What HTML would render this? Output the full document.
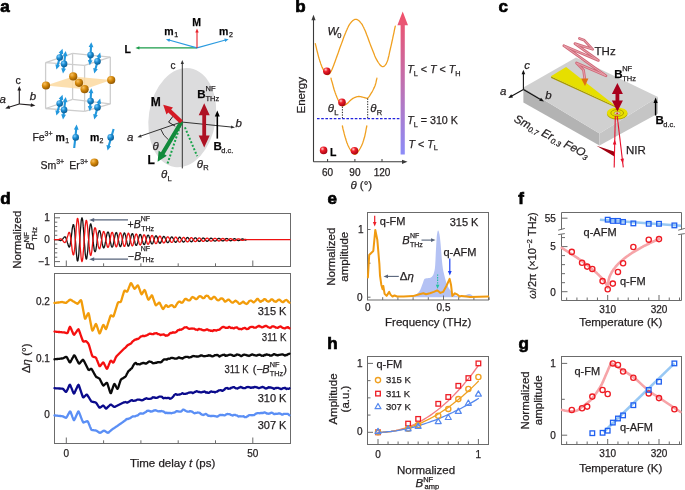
<!DOCTYPE html>
<html><head><meta charset="utf-8"><style>
html,body{margin:0;padding:0;background:#fff;}
svg{display:block;font-family:"Liberation Sans", sans-serif;will-change:transform;}
text{stroke:#231f20;stroke-width:0.25px;}
</style></head><body>
<svg width="685" height="490" viewBox="0 0 685 490">
<defs>
<radialGradient id="gRed" cx="0.35" cy="0.3" r="0.75"><stop offset="0" stop-color="#ffd0d0"/><stop offset="0.35" stop-color="#f0202a"/><stop offset="1" stop-color="#a00010"/></radialGradient>
<radialGradient id="gOr" cx="0.35" cy="0.3" r="0.75"><stop offset="0" stop-color="#f8c060"/><stop offset="0.45" stop-color="#d4880a"/><stop offset="1" stop-color="#8a5200"/></radialGradient>
<radialGradient id="gBl" cx="0.35" cy="0.3" r="0.75"><stop offset="0" stop-color="#80d0ff"/><stop offset="0.45" stop-color="#1a8ad0"/><stop offset="1" stop-color="#0a5a90"/></radialGradient>
<linearGradient id="gArr" x1="0" y1="0" x2="0" y2="1"><stop offset="0" stop-color="#f25068"/><stop offset="0.5" stop-color="#c070b0"/><stop offset="1" stop-color="#8c8cf8"/></linearGradient>
</defs>
<rect width="685" height="490" fill="#fff"/>
<text x="0.3" y="11.6" font-size="17" font-weight="bold" fill="#000" style="stroke:#000;stroke-width:0.7px">a</text>
<text x="295.3" y="11.6" font-size="17" font-weight="bold" fill="#000" style="stroke:#000;stroke-width:0.7px">b</text>
<text x="498.5" y="11.6" font-size="17" font-weight="bold" fill="#000" style="stroke:#000;stroke-width:0.7px">c</text>
<text x="0.3" y="203.9" font-size="17" font-weight="bold" fill="#000" style="stroke:#000;stroke-width:0.7px">d</text>
<text x="327.5" y="203.9" font-size="17" font-weight="bold" fill="#000" style="stroke:#000;stroke-width:0.7px">e</text>
<text x="518.3" y="203.9" font-size="17" font-weight="bold" fill="#000" style="stroke:#000;stroke-width:0.7px">f</text>
<text x="518.5" y="348.6" font-size="17" font-weight="bold" fill="#000" style="stroke:#000;stroke-width:0.7px">g</text>
<text x="327.3" y="348.6" font-size="17" font-weight="bold" fill="#000" style="stroke:#000;stroke-width:0.7px">h</text>
<line x1="197" y1="47.9" x2="138.60" y2="47.90" stroke="#1a9b48" stroke-width="1.1"/>
<polygon points="135.40,47.90 139.40,46.20 139.40,49.60" fill="#1a9b48"/>
<line x1="197" y1="47.9" x2="168.98" y2="40.06" stroke="#2b9be0" stroke-width="1.1"/>
<polygon points="165.90,39.20 170.21,38.64 169.29,41.91" fill="#2b9be0"/>
<line x1="197" y1="47.9" x2="225.51" y2="40.05" stroke="#2b9be0" stroke-width="1.1"/>
<polygon points="228.60,39.20 225.19,41.90 224.29,38.62" fill="#2b9be0"/>
<line x1="197" y1="47.9" x2="197.00" y2="31.80" stroke="#e8202a" stroke-width="1.1"/>
<polygon points="197.00,28.60 198.70,32.60 195.30,32.60" fill="#e8202a"/>
<text x="196.5" y="25.5" font-size="10.5" text-anchor="middle" font-weight="bold" fill="#000">M</text>
<text x="164.3" y="35" font-size="10.5" font-weight="bold" fill="#000">m</text>
<text x="174.2" y="37" font-size="7" fill="#000">1</text>
<text x="219" y="35" font-size="10.5" font-weight="bold" fill="#000">m</text>
<text x="228.9" y="37" font-size="7" fill="#000">2</text>
<text x="124.5" y="53" font-size="10.5" font-weight="bold" fill="#000">L</text>
<line x1="45.6" y1="62.6" x2="72.6" y2="53.4" stroke="#cdcdcd" stroke-width="1.3"/>
<line x1="72.6" y1="53.4" x2="110.3" y2="57.1" stroke="#cdcdcd" stroke-width="1.3"/>
<line x1="110.3" y1="57.1" x2="84.6" y2="65.3" stroke="#cdcdcd" stroke-width="1.3"/>
<line x1="84.6" y1="65.3" x2="45.6" y2="62.6" stroke="#cdcdcd" stroke-width="1.3"/>
<line x1="45.6" y1="108.5" x2="84.6" y2="111.3" stroke="#cdcdcd" stroke-width="1.3"/>
<line x1="84.6" y1="111.3" x2="110.3" y2="103.9" stroke="#cdcdcd" stroke-width="1.3"/>
<line x1="110.3" y1="103.9" x2="72.6" y2="99.3" stroke="#cdcdcd" stroke-width="1.3"/>
<line x1="72.6" y1="99.3" x2="45.6" y2="108.5" stroke="#cdcdcd" stroke-width="1.3"/>
<line x1="45.6" y1="62.6" x2="45.6" y2="108.5" stroke="#cdcdcd" stroke-width="1.3"/>
<line x1="72.6" y1="53.4" x2="72.6" y2="99.3" stroke="#cdcdcd" stroke-width="1.3"/>
<line x1="110.3" y1="57.1" x2="110.3" y2="103.9" stroke="#cdcdcd" stroke-width="1.3"/>
<line x1="84.6" y1="65.3" x2="84.6" y2="111.3" stroke="#cdcdcd" stroke-width="1.3"/>
<polygon points="46,85.5 73.2,76.4 111.2,80 84.6,89.2" fill="#fbd9a0" opacity="0.85"/>
<circle cx="46" cy="85.5" r="4.1" fill="url(#gOr)"/>
<circle cx="73.2" cy="76.4" r="4.1" fill="url(#gOr)"/>
<circle cx="111.2" cy="80" r="4.1" fill="url(#gOr)"/>
<circle cx="79" cy="82.8" r="4.1" fill="url(#gOr)"/>
<circle cx="84.6" cy="89.2" r="4.1" fill="url(#gOr)"/>
<line x1="61.58090999048602" y1="51.655743958132724" x2="57.189352217376324" y2="66.70570853628679" stroke="#2398dd" stroke-width="2.1"/>
<polygon points="62.50,48.80 63.25,54.29 58.68,52.82" fill="#2398dd"/>
<polygon points="56.40,69.60 55.40,64.14 60.03,65.41" fill="#2398dd"/>
<circle cx="59.7" cy="57.5" r="3.3" fill="url(#gBl)"/>
<line x1="65.3307364544437" y1="53.97718733604776" x2="63.34506295834522" y2="70.41991081429128" stroke="#2398dd" stroke-width="2.1"/>
<polygon points="65.70,51.00 67.47,56.26 62.70,55.67" fill="#2398dd"/>
<polygon points="63.00,73.40 61.19,68.16 65.96,68.71" fill="#2398dd"/>
<circle cx="64.1" cy="63.9" r="3.3" fill="url(#gBl)"/>
<line x1="91.13744844574998" y1="45.19559292832169" x2="90.03688183838786" y2="62.20936679035326" stroke="#2398dd" stroke-width="2.1"/>
<polygon points="91.30,42.20 93.43,47.32 88.63,47.06" fill="#2398dd"/>
<polygon points="89.80,65.20 87.80,60.03 92.59,60.41" fill="#2398dd"/>
<circle cx="90.6" cy="55.1" r="3.3" fill="url(#gBl)"/>
<line x1="99.32003293947038" y1="55.46804078987431" x2="94.99546944906312" y2="70.50738382158863" stroke="#2398dd" stroke-width="2.1"/>
<polygon points="100.20,52.60 101.03,58.08 96.44,56.68" fill="#2398dd"/>
<polygon points="94.20,73.40 93.21,67.94 97.84,69.22" fill="#2398dd"/>
<circle cx="97.5" cy="61.4" r="3.3" fill="url(#gBl)"/>
<line x1="61.58090999048602" y1="97.65574395813273" x2="57.189352217376324" y2="112.70570853628679" stroke="#2398dd" stroke-width="2.1"/>
<polygon points="62.50,94.80 63.25,100.29 58.68,98.82" fill="#2398dd"/>
<polygon points="56.40,115.60 55.40,110.14 60.03,111.41" fill="#2398dd"/>
<circle cx="59.7" cy="103.5" r="3.3" fill="url(#gBl)"/>
<line x1="65.3307364544437" y1="99.97718733604776" x2="63.34506295834522" y2="116.41991081429128" stroke="#2398dd" stroke-width="2.1"/>
<polygon points="65.70,97.00 67.47,102.26 62.70,101.67" fill="#2398dd"/>
<polygon points="63.00,119.40 61.19,114.16 65.96,114.71" fill="#2398dd"/>
<circle cx="64.1" cy="109.9" r="3.3" fill="url(#gBl)"/>
<line x1="91.13744844574998" y1="91.19559292832169" x2="90.03688183838786" y2="108.20936679035326" stroke="#2398dd" stroke-width="2.1"/>
<polygon points="91.30,88.20 93.43,93.32 88.63,93.06" fill="#2398dd"/>
<polygon points="89.80,111.20 87.80,106.03 92.59,106.41" fill="#2398dd"/>
<circle cx="90.6" cy="101.1" r="3.3" fill="url(#gBl)"/>
<line x1="99.32003293947038" y1="101.46804078987431" x2="94.99546944906312" y2="116.50738382158863" stroke="#2398dd" stroke-width="2.1"/>
<polygon points="100.20,98.60 101.03,104.08 96.44,102.68" fill="#2398dd"/>
<polygon points="94.20,119.40 93.21,113.94 97.84,115.22" fill="#2398dd"/>
<circle cx="97.5" cy="107.4" r="3.3" fill="url(#gBl)"/>
<line x1="19.3" y1="104" x2="19.30" y2="89.68" stroke="#231f20" stroke-width="1.1"/>
<polygon points="19.30,86.00 21.20,90.60 17.40,90.60" fill="#231f20"/>
<line x1="19.3" y1="104" x2="8.71" y2="107.30" stroke="#231f20" stroke-width="1.1"/>
<polygon points="5.20,108.40 9.03,105.22 10.16,108.84" fill="#231f20"/>
<line x1="19.3" y1="104" x2="31.74" y2="105.16" stroke="#231f20" stroke-width="1.1"/>
<polygon points="35.40,105.50 30.64,106.97 31.00,103.18" fill="#231f20"/>
<text x="15.6" y="83.6" font-size="10.5" fill="#231f20">c</text>
<text x="-0.4" y="102.8" font-size="11.5" font-style="italic" fill="#231f20">a</text>
<text x="29.8" y="99.9" font-size="11.5" font-style="italic" fill="#231f20">b</text>
<text x="32.4" y="141.3" font-size="10.5" fill="#231f20">Fe</text>
<text x="44.5" y="136.3" font-size="7" fill="#231f20">3+</text>
<text x="55.6" y="141.3" font-size="10.5" font-weight="bold" fill="#000">m</text>
<text x="65.2" y="143.2" font-size="7" fill="#231f20">1</text>
<line x1="76.38958199599233" y1="127.59261161255338" x2="74.2" y2="148.0" stroke="#2398dd" stroke-width="2.1"/>
<polygon points="76.60,124.60 78.64,129.76 73.86,129.42" fill="#2398dd"/>
<circle cx="75.7" cy="137.4" r="3.3" fill="url(#gBl)"/>
<text x="90" y="141.3" font-size="10.5" font-weight="bold" fill="#000">m</text>
<text x="99.6" y="143.2" font-size="7" fill="#231f20">2</text>
<line x1="113.6" y1="129.0" x2="108.29084383366741" y2="147.5806276706313" stroke="#2398dd" stroke-width="2.1"/>
<polygon points="107.60,150.50 106.42,145.08 111.09,146.19" fill="#2398dd"/>
<circle cx="110.7" cy="137.4" r="3.3" fill="url(#gBl)"/>
<text x="40.5" y="169" font-size="10.5" fill="#231f20">Sm</text>
<text x="56.2" y="164" font-size="7" fill="#231f20">3+</text>
<text x="69.2" y="169" font-size="10.5" fill="#231f20">Er</text>
<text x="80.2" y="164" font-size="7" fill="#231f20">3+</text>
<circle cx="94.4" cy="162.6" r="4.1" fill="url(#gOr)"/>
<ellipse cx="182.3" cy="117.6" rx="33.5" ry="50" fill="#dcdcdd" transform="rotate(9 182.3 117.6)"/>
<line x1="182.3" y1="168.4" x2="182.30" y2="63.10" stroke="#333" stroke-width="1"/>
<polygon points="182.30,59.90 183.90,63.90 180.70,63.90" fill="#333"/>
<text x="170.5" y="69" font-size="10" fill="#231f20">c</text>
<line x1="181.4" y1="122" x2="140.42" y2="136.16" stroke="#333" stroke-width="1"/>
<polygon points="137.40,137.20 140.66,134.38 141.70,137.41" fill="#333"/>
<text x="127" y="140.6" font-size="11.5" font-style="italic" fill="#231f20">a</text>
<line x1="181.4" y1="122" x2="231.82" y2="127.08" stroke="#333" stroke-width="1"/>
<polygon points="235.00,127.40 230.86,128.59 231.18,125.41" fill="#333"/>
<text x="235.5" y="126.5" font-size="11.5" font-style="italic" fill="#231f20">b</text>
<path d="M 160.8 129.3 A 22 22 0 0 0 168.5 139.8" fill="none" stroke="#231f20" stroke-width="0.9"/>
<polyline points="173,116.2 168.6,122.1 175.2,126.2" fill="none" stroke="#231f20" stroke-width="1"/>
<line x1="181.4" y1="122" x2="167.4" y2="164" stroke="#17a34a" stroke-width="2" stroke-dasharray="2 1.8"/>
<line x1="184.9" y1="127.3" x2="197.2" y2="156.2" stroke="#17a34a" stroke-width="2" stroke-dasharray="2 1.8"/>
<polygon points="179.60,120.92 160.93,152.14 158.66,150.78 157.60,161.80 166.81,155.66 164.53,154.30 183.20,123.08" fill="#128a3c"/>
<polygon points="182.84,120.47 171.18,109.46 173.00,107.53 163.20,104.80 166.48,114.43 168.30,112.51 179.96,123.53" fill="#d41a24"/>
<text x="147.6" y="164.3" font-size="12" font-weight="bold" fill="#000">L</text>
<text x="150.7" y="106.2" font-size="12" font-weight="bold" fill="#000">M</text>
<text x="152.5" y="150" font-size="11.5" font-style="italic" fill="#231f20">θ</text>
<text x="161" y="178" font-size="11.5" font-style="italic" fill="#231f20">θ</text>
<text x="167.5" y="180.5" font-size="7.5" fill="#231f20">L</text>
<text x="196.8" y="167.5" font-size="11.5" font-style="italic" fill="#231f20">θ</text>
<text x="203.3" y="170" font-size="7.5" fill="#231f20">R</text>
<polygon points="204.20,103.20 209.70,115.20 206.10,115.20 206.10,135.40 209.70,135.40 204.20,147.40 198.70,135.40 202.30,135.40 202.30,115.20 198.70,115.20" fill="#ae1224"/>
<text x="197.2" y="98" font-size="11.5" font-weight="bold" fill="#000">B</text>
<text x="205.5" y="91" font-size="7.5" fill="#231f20">NF</text>
<text x="205.5" y="101" font-size="7.5" fill="#231f20">THz</text>
<line x1="217.3" y1="138.6" x2="217.30" y2="115.30" stroke="#000" stroke-width="1.6"/>
<polygon points="217.30,110.50 219.80,116.50 214.80,116.50" fill="#000"/>
<text x="213.5" y="150.2" font-size="11.5" font-weight="bold" fill="#000">B</text>
<text x="221.3" y="152.5" font-size="7.5" fill="#231f20">d.c.</text>
<polyline points="315.3,43.6 315.6,44.8 316.0,46.4 316.4,48.2 316.9,50.3 317.5,52.5 318.0,54.6 318.5,56.6 319.0,58.3 319.5,59.8 319.9,61.3 320.4,62.6 320.8,63.9 321.3,65.1 321.7,66.3 322.2,67.4 322.7,68.4 323.2,69.4 323.7,70.4 324.2,71.4 324.8,72.3 325.3,73.0 325.9,73.7 326.4,74.2 326.9,74.5 327.4,74.6 327.9,74.6 328.4,74.4 328.9,74.1 329.4,73.7 329.9,73.1 330.4,72.4 331.0,71.5 331.5,70.5 332.1,69.3 332.6,68.0 333.2,66.5 333.8,64.9 334.4,63.3 335.0,61.7 335.6,60.1 336.1,58.6 336.7,57.1 337.2,55.5 337.8,53.9 338.4,52.3 338.9,50.7 339.5,49.0 340.1,47.3 340.8,45.5 341.5,43.6 342.2,41.7 342.9,39.7 343.6,37.8 344.3,35.9 345.0,34.2 345.7,32.6 346.3,31.1 346.9,29.8 347.4,28.5 348.0,27.3 348.5,26.2 349.1,25.2 349.6,24.2 350.3,23.4 350.9,22.6 351.6,21.8 352.3,21.1 353.0,20.5 353.7,20.0 354.4,19.7 355.1,19.4 355.8,19.3 356.5,19.4 357.2,19.7 357.9,20.0 358.6,20.5 359.3,21.1 360.0,21.8 360.6,22.6 361.3,23.4 361.9,24.2 362.5,25.2 363.0,26.2 363.6,27.3 364.1,28.5 364.7,29.8 365.3,31.1 365.9,32.6 366.5,34.2 367.2,35.9 367.9,37.8 368.6,39.7 369.3,41.7 370.0,43.6 370.7,45.5 371.4,47.3 372.1,49.0 372.8,50.8 373.5,52.5 374.2,54.2 374.8,55.9 375.5,57.4 376.2,58.9 376.9,60.1 377.6,61.3 378.3,62.5 379.0,63.5 379.7,64.5 380.4,65.3 381.1,65.9 381.8,66.3 382.4,66.6 383.1,66.6 383.7,66.4 384.3,66.1 384.8,65.6 385.4,64.9 386.0,64.1 386.5,63.1 387.0,62.0 387.5,60.7 388.0,59.2 388.4,57.5 388.9,55.7 389.3,53.7 389.7,51.6 390.2,49.5 390.7,47.3 391.3,44.8 391.9,42.0 392.6,38.9 393.2,35.8 393.9,32.8 394.4,30.1 394.9,27.8 395.3,26.1" fill="none" stroke="#f0a020" stroke-width="1.3" stroke-linejoin="round" stroke-linecap="round"/>
<polyline points="331.0,78.2 331.2,79.2 331.6,80.6 332.1,82.2 332.6,84.0 333.1,85.9 333.6,87.8 334.1,89.5 334.6,91.0 335.1,92.4 335.6,93.7 336.0,94.9 336.5,96.1 336.9,97.2 337.4,98.3 337.8,99.3 338.3,100.2 338.8,101.1 339.2,102.0 339.6,102.9 340.1,103.7 340.5,104.4 341.0,105.0 341.5,105.4 342.0,105.7 342.5,105.9 343.0,105.9 343.6,105.7 344.1,105.5 344.7,105.2 345.3,104.8 345.9,104.4 346.6,103.9 347.3,103.4 348.1,102.7 348.9,101.9 349.7,101.1 350.6,100.3 351.4,99.6 352.2,98.9 353.0,98.4 353.7,98.0 354.5,97.6 355.2,97.3 355.8,97.1 356.5,96.9 357.2,96.7 357.8,96.6 358.5,96.5 359.2,96.5 360.0,96.6 360.7,96.7 361.4,96.9 362.1,97.0 362.8,97.2 363.4,97.3 364.0,97.5 364.6,97.6 365.1,97.8 365.6,97.9 366.0,98.1 366.4,98.2 366.8,98.3 367.3,98.2 367.7,98.0 368.2,97.7 368.6,97.2 369.1,96.6 369.6,95.9 370.0,95.2 370.5,94.4 370.9,93.7 371.4,92.9 371.9,92.1 372.4,91.2 372.9,90.3 373.4,89.3 373.8,88.4 374.3,87.4 374.7,86.4 375.1,85.5 375.4,84.5 375.7,83.5 376.0,82.4 376.2,81.4 376.4,80.4 376.6,79.5 376.8,78.7 376.9,78.2" fill="none" stroke="#f0a020" stroke-width="1.3" stroke-linejoin="round" stroke-linecap="round"/>
<polyline points="342.4,126.0 342.6,127.0 342.9,128.4 343.3,130.0 343.8,131.8 344.2,133.7 344.7,135.6 345.2,137.3 345.7,138.8 346.1,140.2 346.5,141.4 346.9,142.7 347.4,143.8 347.8,144.9 348.3,146.0 348.8,147.0 349.3,148.0 349.9,149.0 350.6,150.1 351.3,151.2 352.0,152.2 352.7,153.1 353.4,153.8 354.2,154.3 354.9,154.4 355.6,154.3 356.3,153.8 357.0,153.1 357.7,152.2 358.4,151.2 359.1,150.1 359.8,149.0 360.4,148.0 360.9,147.0 361.4,146.0 361.9,144.9 362.4,143.8 362.8,142.7 363.2,141.4 363.6,140.2 364.0,138.8 364.5,137.3 364.9,135.6 365.3,133.7 365.7,131.8 366.0,130.0 366.3,128.4 366.6,127.0 366.8,126.0" fill="none" stroke="#f0a020" stroke-width="1.3" stroke-linejoin="round" stroke-linecap="round"/>
<line x1="313.5" y1="161.8" x2="313.5" y2="20" stroke="#3a3a3a" stroke-width="1.1"/>
<polygon points="313.50,14.80 315.60,20.30 311.40,20.30" fill="#3a3a3a"/>
<line x1="313.5" y1="161.8" x2="402" y2="161.8" stroke="#3a3a3a" stroke-width="1.1"/>
<polygon points="407.50,161.80 402.00,163.90 402.00,159.70" fill="#3a3a3a"/>
<line x1="327.6" y1="161.8" x2="327.6" y2="159" stroke="#3a3a3a" stroke-width="1"/>
<text x="327.6" y="175.5" font-size="10" text-anchor="middle" fill="#231f20">60</text>
<line x1="354.9" y1="161.8" x2="354.9" y2="159" stroke="#3a3a3a" stroke-width="1"/>
<text x="354.9" y="175.5" font-size="10" text-anchor="middle" fill="#231f20">90</text>
<line x1="382" y1="161.8" x2="382" y2="159" stroke="#3a3a3a" stroke-width="1"/>
<text x="382" y="175.5" font-size="10" text-anchor="middle" fill="#231f20">120</text>
<text x="350.4" y="189" font-size="11.5" fill="#231f20"><tspan font-style="italic">θ</tspan> (°)</text>
<text x="305.5" y="95.3" font-size="11.5" text-anchor="middle" fill="#231f20" transform="rotate(-90 305.5 95.3)">Energy</text>
<line x1="317" y1="118.6" x2="400.5" y2="118.6" stroke="#2222dd" stroke-width="1.2" stroke-dasharray="2.6 1.6"/>
<line x1="342.4" y1="106.6" x2="342.4" y2="118" stroke="#222" stroke-width="1" stroke-dasharray="1.3 1.3"/>
<line x1="367.7" y1="98.5" x2="367.7" y2="118" stroke="#222" stroke-width="1" stroke-dasharray="1.3 1.3"/>
<circle cx="326.9" cy="71.2" r="3.8" fill="url(#gRed)"/>
<circle cx="342" cy="102.4" r="3.8" fill="url(#gRed)"/>
<circle cx="354.5" cy="150.8" r="3.8" fill="url(#gRed)"/>
<circle cx="323.6" cy="150.4" r="3.8" fill="url(#gRed)"/>
<text x="330" y="155.6" font-size="10.5" font-weight="bold" fill="#000">L</text>
<text x="327.6" y="35.3" font-size="11.5" font-style="italic" fill="#231f20">W</text>
<text x="337.3" y="37.8" font-size="7.5" fill="#231f20">0</text>
<text x="327.8" y="112.2" font-size="11.5" font-style="italic" fill="#231f20">θ</text>
<text x="334.3" y="114.6" font-size="7.5" fill="#231f20">L</text>
<text x="370.2" y="112.2" font-size="11.5" font-style="italic" fill="#231f20">θ</text>
<text x="376.7" y="114.6" font-size="7.5" fill="#231f20">R</text>
<polygon points="402.7,11.4 408,25.2 404.8,25.2 404.8,154.6 400.6,154.6 400.6,25.2 397.4,25.2" fill="url(#gArr)"/>
<text x="407.2" y="73.4" font-size="10.7" fill="#231f20"><tspan font-style="italic" dy="0.0">T</tspan><tspan font-size="7.3" dy="2.3">L</tspan><tspan dy="-2.3"> &lt; </tspan><tspan font-style="italic" dy="0">T</tspan><tspan dy="0"> &lt; </tspan><tspan font-style="italic" dy="0">T</tspan><tspan font-size="7.3" dy="2.3">H</tspan></text>
<text x="407.2" y="124.3" font-size="10.7" fill="#231f20"><tspan font-style="italic" dy="0.0">T</tspan><tspan font-size="7.3" dy="2.3">L</tspan><tspan dy="-2.3"> = 310 K</tspan></text>
<text x="408.6" y="147.7" font-size="10.7" fill="#231f20"><tspan font-style="italic" dy="0.0">T</tspan><tspan dy="0"> &lt; </tspan><tspan font-style="italic" dy="0">T</tspan><tspan font-size="7.3" dy="2.3">L</tspan></text>
<polygon points="523.40,87.50 599.50,133.40 599.50,145.50 523.40,102.50" fill="#b3b3b3"/>
<polygon points="599.50,133.40 658.00,97.10 658.00,113.50 599.50,145.50" fill="#c5c5c5"/>
<polygon points="523.40,87.50 576.00,57.60 658.00,97.10 599.50,133.40" fill="#d0d0d0"/>
<polygon points="550.90,76.20 551.20,78.00 616.30,107.80 616.30,106.40" fill="#a89a00"/>
<polygon points="550.90,76.20 566.10,66.90 616.30,106.40" fill="#e6df00"/>
<ellipse cx="617.2" cy="114" rx="10.3" ry="5.6" fill="#b0a400"/>
<ellipse cx="617.2" cy="113" rx="10.3" ry="5.6" fill="#e8e000"/>
<ellipse cx="617.2" cy="113" rx="6.4" ry="3.4" fill="none" stroke="#a89800" stroke-width="0.9"/>
<ellipse cx="617.2" cy="113.2" rx="3.2" ry="1.7" fill="#e0c8b0" stroke="#a89800" stroke-width="0.6"/>
<circle cx="617.2" cy="113.4" r="0.9" fill="#e02030"/>
<polyline points="579.4,38.4 584.3,40.3 592.7,49.3 574.9,43.6 598.4,60.4 563.8,45.7 606.0,75.8 576.5,63.0 583.5,70.0 584.8,79.0" fill="none" stroke="#d06a7a" stroke-width="2.7" stroke-linejoin="round" stroke-linecap="round"/>
<polyline points="579.4,38.4 584.3,40.3 592.7,49.3 574.9,43.6 598.4,60.4 563.8,45.7 606.0,75.8 576.5,63.0 583.5,70.0 584.8,79.0" fill="none" stroke="#e8a2ac" stroke-width="1.0" stroke-linejoin="round" stroke-linecap="round"/>
<polygon points="581.20,78.50 588.40,78.50 585.00,86.00" fill="#e07010"/>
<polygon points="617.40,83.10 622.90,94.10 619.30,94.10 619.30,100.60 622.90,100.60 617.40,111.60 611.90,100.60 615.50,100.60 615.50,94.10 611.90,94.10" fill="#a8001c"/>
<text x="614.2" y="77.8" font-size="11.5" font-weight="bold" fill="#000">B</text>
<text x="622.2" y="70.5" font-size="7.5" fill="#231f20">NF</text>
<text x="622.2" y="81.4" font-size="7.5" fill="#231f20">THz</text>
<line x1="655.6" y1="115.5" x2="655.60" y2="102.00" stroke="#000" stroke-width="1.5"/>
<polygon points="655.60,97.60 657.70,103.10 653.50,103.10" fill="#000"/>
<text x="655.5" y="123.6" font-size="11.5" font-weight="bold" fill="#000">B</text>
<text x="663.3" y="127.4" font-size="7.5" fill="#231f20">d.c.</text>
<polygon points="596.50,145.70 614.00,151.60 614.40,156.50" fill="#a00010"/>
<line x1="614.2" y1="167.4" x2="615.3" y2="116" stroke="#e60f2a" stroke-width="1.1"/>
<polygon points="614.70,139.50 616.40,144.53 612.80,144.46" fill="#e60f2a"/>
<line x1="617.2" y1="116" x2="623.3" y2="167.4" stroke="#e60f2a" stroke-width="1.1"/>
<polygon points="622.80,163.80 620.42,159.05 624.00,158.62" fill="#e60f2a"/>
<text x="625.9" y="154.4" font-size="11.5" fill="#231f20">NIR</text>
<text x="594.6" y="54.8" font-size="11.5" fill="#231f20">THz</text>
<line x1="523.4" y1="89.5" x2="523.40" y2="73.30" stroke="#111" stroke-width="1.1"/>
<polygon points="523.40,69.70 525.20,74.20 521.60,74.20" fill="#111"/>
<line x1="523.4" y1="89.5" x2="511.33" y2="96.33" stroke="#111" stroke-width="1.1"/>
<polygon points="508.20,98.10 511.23,94.32 513.00,97.45" fill="#111"/>
<line x1="523.4" y1="89.5" x2="540.89" y2="99.69" stroke="#111" stroke-width="1.1"/>
<polygon points="544.00,101.50 539.21,100.79 541.02,97.68" fill="#111"/>
<text x="524.2" y="69" font-size="11.5" font-style="italic" fill="#231f20">c</text>
<text x="499.9" y="94.8" font-size="11.5" font-style="italic" fill="#231f20">a</text>
<text x="545.2" y="98.5" font-size="11.5" font-style="italic" fill="#231f20">b</text>
<text x="0" y="0" font-size="11.5" font-style="italic" fill="#231f20" transform="translate(513.2,121.2) rotate(27)">Sm<tspan font-size="7.5" dy="2.3">0.7</tspan><tspan dy="-2.3"> Er</tspan><tspan font-size="7.5" dy="2.3">0.3</tspan><tspan dy="-2.3"> FeO</tspan><tspan font-size="7.5" dy="2.3">3</tspan></text>
<rect x="54.5" y="213.5" width="236.0" height="53.0" fill="none" stroke="#6b6b6b" stroke-width="1"/>
<line x1="54.5" y1="261.59999999999997" x2="60.0" y2="261.59999999999997" stroke="#6b6b6b" stroke-width="1"/>
<line x1="54.5" y1="257.21999999999997" x2="57.3" y2="257.21999999999997" stroke="#6b6b6b" stroke-width="1"/>
<line x1="54.5" y1="252.83999999999997" x2="57.3" y2="252.83999999999997" stroke="#6b6b6b" stroke-width="1"/>
<line x1="54.5" y1="248.45999999999998" x2="57.3" y2="248.45999999999998" stroke="#6b6b6b" stroke-width="1"/>
<line x1="54.5" y1="244.07999999999998" x2="57.3" y2="244.07999999999998" stroke="#6b6b6b" stroke-width="1"/>
<line x1="54.5" y1="239.7" x2="60.0" y2="239.7" stroke="#6b6b6b" stroke-width="1"/>
<line x1="54.5" y1="235.32" x2="57.3" y2="235.32" stroke="#6b6b6b" stroke-width="1"/>
<line x1="54.5" y1="230.94" x2="57.3" y2="230.94" stroke="#6b6b6b" stroke-width="1"/>
<line x1="54.5" y1="226.56" x2="57.3" y2="226.56" stroke="#6b6b6b" stroke-width="1"/>
<line x1="54.5" y1="222.17999999999998" x2="57.3" y2="222.17999999999998" stroke="#6b6b6b" stroke-width="1"/>
<line x1="54.5" y1="217.79999999999998" x2="60.0" y2="217.79999999999998" stroke="#6b6b6b" stroke-width="1"/>
<line x1="66.3" y1="266.5" x2="66.3" y2="260.5" stroke="#6b6b6b" stroke-width="1"/>
<line x1="103.6" y1="266.5" x2="103.6" y2="263.3" stroke="#6b6b6b" stroke-width="1"/>
<line x1="140.89999999999998" y1="266.5" x2="140.89999999999998" y2="263.3" stroke="#6b6b6b" stroke-width="1"/>
<line x1="178.2" y1="266.5" x2="178.2" y2="263.3" stroke="#6b6b6b" stroke-width="1"/>
<line x1="215.5" y1="266.5" x2="215.5" y2="263.3" stroke="#6b6b6b" stroke-width="1"/>
<line x1="252.8" y1="266.5" x2="252.8" y2="260.5" stroke="#6b6b6b" stroke-width="1"/>
<text x="49.8" y="221.39999999999998" font-size="10" text-anchor="end" fill="#231f20">1</text>
<text x="49.8" y="243.29999999999998" font-size="10" text-anchor="end" fill="#231f20">0</text>
<text x="49.8" y="265.2" font-size="10" text-anchor="end" fill="#231f20">−1</text>
<polyline points="54.5,239.7 54.8,239.7 55.0,239.7 55.2,239.7 55.5,239.7 55.8,239.7 56.0,239.7 56.2,239.7 56.5,239.7 56.8,239.7 57.0,239.7 57.2,239.7 57.5,239.7 57.8,239.7 58.0,239.7 58.2,239.7 58.5,239.8 58.8,239.9 59.0,240.0 59.2,240.1 59.5,240.2 59.8,240.3 60.0,240.4 60.2,240.5 60.5,240.5 60.8,240.5 61.0,240.4 61.2,240.3 61.5,240.2 61.8,240.0 62.0,239.8 62.2,239.5 62.5,239.2 62.8,238.9 63.0,238.6 63.2,238.3 63.5,237.9 63.8,237.6 64.0,237.3 64.2,237.0 64.5,236.9 64.8,236.8 65.0,236.8 65.2,237.0 65.5,237.3 65.8,237.7 66.0,238.3 66.2,238.9 66.5,239.6 66.8,240.4 67.0,241.3 67.2,242.1 67.5,243.0 67.8,243.7 68.0,244.4 68.2,245.3 68.5,246.0 68.8,246.6 69.0,247.0 69.2,247.1 69.5,246.9 69.8,246.4 70.0,245.5 70.2,244.4 70.5,242.9 70.8,241.2 71.0,239.3 71.2,237.3 71.5,235.1 71.8,232.9 72.0,230.8 72.2,228.9 72.5,227.3 72.8,226.0 73.0,225.0 73.2,224.6 73.5,224.6 73.8,225.1 74.0,226.1 74.2,227.7 74.5,229.7 74.8,232.1 75.0,234.9 75.2,238.0 75.5,241.3 75.8,244.7 76.0,248.1 76.2,251.3 76.5,254.3 76.8,257.0 77.0,259.1 77.2,260.4 77.5,261.0 77.8,260.9 78.0,260.2 78.2,258.8 78.5,256.8 78.8,254.2 79.0,251.2 79.2,247.8 79.5,244.2 79.8,240.4 80.0,236.5 80.2,232.8 80.5,229.2 80.8,226.0 81.0,223.2 81.2,220.9 81.5,219.2 81.8,218.2 82.0,217.8 82.2,218.3 82.5,219.4 82.8,221.2 83.0,223.5 83.2,226.4 83.5,229.6 83.8,233.0 84.0,236.7 84.2,240.4 84.5,244.0 84.8,247.4 85.0,250.6 85.2,253.3 85.5,255.6 85.8,257.4 86.0,258.6 86.2,259.1 86.5,259.0 86.8,258.2 87.0,256.9 87.2,255.1 87.5,252.8 87.8,250.2 88.0,247.3 88.2,244.2 88.5,241.1 88.8,238.0 89.0,235.0 89.2,232.2 89.5,229.7 89.8,227.6 90.0,225.9 90.2,224.8 90.5,224.1 90.8,223.9 91.0,224.3 91.2,225.1 91.5,226.4 91.8,228.1 92.0,230.1 92.2,232.3 92.5,234.7 92.8,237.2 93.0,239.7 93.2,242.2 93.5,244.4 93.8,246.5 94.0,248.2 94.2,249.7 94.5,250.7 94.8,251.4 95.0,251.7 95.2,251.5 95.5,251.1 95.8,250.2 96.0,249.1 96.2,247.6 96.5,246.0 96.8,244.2 97.0,242.3 97.2,240.4 97.5,238.5 97.8,236.7 98.0,235.1 98.2,233.7 98.5,232.5 98.8,231.7 99.0,231.1 99.2,230.7 99.5,230.6 99.8,230.8 100.0,231.3 100.2,232.1 100.5,233.2 100.8,234.4 101.0,235.8 101.2,237.3 101.5,238.9 101.8,240.5 102.0,242.0 102.2,243.4 102.5,244.7 102.8,245.9 103.0,246.8 103.2,247.4 103.5,247.8 103.8,247.9 104.0,247.7 104.2,247.2 104.5,246.5 104.8,245.6 105.0,244.5 105.2,243.2 105.5,241.9 105.8,240.4 106.0,239.0 106.2,237.5 106.5,236.2 106.8,235.0 107.0,233.9 107.2,233.1 107.5,232.5 107.8,232.1 108.0,232.0 108.2,232.2 108.5,232.6 108.8,233.3 109.0,234.2 109.2,235.3 109.5,236.5 109.8,237.9 110.0,239.3 110.2,240.7 110.5,242.1 110.8,243.4 111.0,244.5 111.2,245.5 111.5,246.3 111.8,246.8 112.0,247.1 112.2,247.1 112.5,246.8 112.8,246.3 113.0,245.6 113.2,244.6 113.5,243.5 113.8,242.3 114.0,240.9 114.2,239.5 114.5,238.2 114.8,236.8 115.0,235.6 115.2,234.6 115.5,233.7 115.8,233.1 116.0,232.7 116.2,232.5 116.5,232.7 116.8,233.0 117.0,233.6 117.2,234.5 117.5,235.5 117.8,236.7 118.0,238.0 118.2,239.3 118.5,240.7 118.8,242.0 119.0,243.2 119.2,244.3 119.5,245.2 119.8,245.9 120.0,246.4 120.2,246.6 120.5,246.6 120.8,246.3 121.0,245.8 121.2,245.0 121.5,244.1 121.8,242.9 122.0,241.7 122.2,240.4 122.5,239.1 122.8,237.8 123.0,236.5 123.2,235.4 123.5,234.5 123.8,233.8 124.0,233.2 124.2,233.0 124.5,233.0 124.8,233.2 125.0,233.7 125.2,234.5 125.5,235.4 125.8,236.5 126.0,237.7 126.2,239.0 126.5,240.3 126.8,241.6 127.0,242.8 127.2,243.8 127.5,244.8 127.8,245.5 128.0,246.0 128.2,246.2 128.5,246.2 128.8,245.9 129.0,245.4 129.2,244.7 129.5,243.7 129.8,242.7 130.0,241.5 130.2,240.2 130.5,239.0 130.8,237.8 131.0,236.6 131.2,235.6 131.5,234.8 131.8,234.2 132.0,233.8 132.2,233.6 132.5,233.6 132.8,234.0 133.0,234.5 133.2,235.2 133.5,236.1 133.8,237.1 134.0,238.3 134.2,239.4 134.5,240.6 134.8,241.7 135.0,242.8 135.2,243.7 135.5,244.4 135.8,245.0 136.0,245.3 136.2,245.4 136.5,245.3 136.8,245.0 137.0,244.4 137.2,243.7 137.5,242.9 137.8,241.9 138.0,240.8 138.2,239.7 138.5,238.6 138.8,237.6 139.0,236.7 139.2,235.9 139.5,235.2 139.8,234.7 140.0,234.5 140.2,234.4 140.5,234.5 140.8,234.9 141.0,235.4 141.2,236.1 141.5,237.0 141.8,237.9 142.0,238.9 142.2,239.9 142.5,240.9 142.8,241.8 143.0,242.7 143.2,243.4 143.5,244.0 143.8,244.4 144.0,244.6 144.2,244.6 144.5,244.4 144.8,244.0 145.0,243.5 145.2,242.8 145.5,242.1 145.8,241.2 146.0,240.3 146.2,239.3 146.5,238.4 146.8,237.5 147.0,236.8 147.2,236.1 147.5,235.6 147.8,235.3 148.0,235.1 148.2,235.2 148.5,235.4 148.8,235.7 149.0,236.3 149.2,236.9 149.5,237.7 149.8,238.5 150.0,239.4 150.2,240.2 150.5,241.1 150.8,241.9 151.0,242.6 151.2,243.1 151.5,243.6 151.8,243.8 152.0,243.9 152.2,243.9 152.5,243.7 152.8,243.3 153.0,242.8 153.2,242.1 153.5,241.4 153.8,240.6 154.0,239.8 154.2,239.0 154.5,238.2 154.8,237.5 155.0,236.9 155.2,236.4 155.5,236.1 155.8,235.8 156.0,235.8 156.2,235.9 156.5,236.1 156.8,236.5 157.0,237.0 157.2,237.6 157.5,238.3 157.8,239.0 158.0,239.8 158.2,240.5 158.5,241.2 158.8,241.8 159.0,242.4 159.2,242.8 159.5,243.1 159.8,243.3 160.0,243.3 160.2,243.2 160.5,242.9 160.8,242.5 161.0,242.0 161.2,241.5 161.5,240.8 161.8,240.2 162.0,239.5 162.2,238.8 162.5,238.2 162.8,237.6 163.0,237.2 163.2,236.8 163.5,236.6 163.8,236.4 164.0,236.5 164.2,236.6 164.5,236.9 164.8,237.2 165.0,237.7 165.2,238.2 165.5,238.8 165.8,239.4 166.0,240.0 166.2,240.6 166.5,241.2 166.8,241.7 167.0,242.1 167.2,242.4 167.5,242.6 167.8,242.6 168.0,242.6 168.2,242.4 168.5,242.2 168.8,241.8 169.0,241.4 169.2,240.9 169.5,240.4 169.8,239.8 170.0,239.3 170.2,238.7 170.5,238.2 170.8,237.8 171.0,237.4 171.2,237.2 171.5,237.0 171.8,237.0 172.0,237.0 172.2,237.2 172.5,237.4 172.8,237.8 173.0,238.2 173.2,238.7 173.5,239.2 173.8,239.7 174.0,240.3 174.2,240.8 174.5,241.2 174.8,241.6 175.0,241.9 175.2,242.2 175.5,242.3 175.8,242.3 176.0,242.2 176.2,242.0 176.5,241.8 176.8,241.4 177.0,241.0 177.2,240.5 177.5,240.1 177.8,239.5 178.0,239.0 178.2,238.6 178.5,238.2 178.8,237.8 179.0,237.5 179.2,237.3 179.5,237.2 179.8,237.2 180.0,237.3 180.2,237.5 180.5,237.8 180.8,238.2 181.0,238.6 181.2,239.0 181.5,239.5 181.8,240.0 182.0,240.4 182.2,240.9 182.5,241.2 182.8,241.6 183.0,241.8 183.2,242.0 183.5,242.0 183.8,242.0 184.0,241.9 184.2,241.7 184.5,241.4 184.8,241.1 185.0,240.7 185.2,240.2 185.5,239.8 185.8,239.3 186.0,238.9 186.2,238.5 186.5,238.2 186.8,237.9 187.0,237.7 187.2,237.5 187.5,237.5 187.8,237.6 188.0,237.7 188.2,237.9 188.5,238.2 188.8,238.5 189.0,238.9 189.2,239.3 189.5,239.7 189.8,240.2 190.0,240.6 190.2,240.9 190.5,241.2 190.8,241.5 191.0,241.6 191.2,241.7 191.5,241.8 191.8,241.7 192.0,241.5 192.2,241.3 192.5,241.0 192.8,240.7 193.0,240.3 193.2,239.9 193.5,239.6 193.8,239.2 194.0,238.8 194.2,238.5 194.5,238.2 194.8,238.0 195.0,237.9 195.2,237.8 195.5,237.8 195.8,237.9 196.0,238.0 196.2,238.3 196.5,238.5 196.8,238.9 197.0,239.2 197.2,239.6 197.5,239.9 197.8,240.3 198.0,240.6 198.2,240.9 198.5,241.1 198.8,241.3 199.0,241.4 199.2,241.5 199.5,241.4 199.8,241.3 200.0,241.2 200.2,241.0 200.5,240.7 200.8,240.4 201.0,240.1 201.2,239.7 201.5,239.4 201.8,239.1 202.0,238.8 202.2,238.5 202.5,238.3 202.8,238.1 203.0,238.0 203.2,238.0 203.5,238.1 203.8,238.2 204.0,238.3 204.2,238.6 204.5,238.8 204.8,239.1 205.0,239.4 205.2,239.8 205.5,240.1 205.8,240.4 206.0,240.7 206.2,240.9 206.5,241.1 206.8,241.2 207.0,241.3 207.2,241.3 207.5,241.2 207.8,241.1 208.0,240.9 208.2,240.7 208.5,240.4 208.8,240.2 209.0,239.9 209.2,239.5 209.5,239.2 209.8,239.0 210.0,238.7 210.2,238.5 210.5,238.3 210.8,238.2 211.0,238.2 211.2,238.2 211.5,238.3 211.8,238.4 212.0,238.6 212.2,238.8 212.5,239.1 212.8,239.4 213.0,239.6 213.2,239.9 213.5,240.2 213.8,240.5 214.0,240.7 214.2,240.9 214.5,241.0 214.8,241.1 215.0,241.1 215.2,241.1 215.5,241.0 215.8,240.9 216.0,240.7 216.2,240.5 216.5,240.2 216.8,239.9 217.0,239.7 217.2,239.4 217.5,239.1 217.8,238.9 218.0,238.7 218.2,238.5 218.5,238.4 218.8,238.4 219.0,238.4 219.2,238.4 219.5,238.5 219.8,238.7 220.0,238.8 220.2,239.1 220.5,239.3 220.8,239.5 221.0,239.8 221.2,240.1 221.5,240.3 221.8,240.5 222.0,240.7 222.2,240.8 222.5,240.9 222.8,240.9 223.0,240.9 223.2,240.9 223.5,240.8 223.8,240.6 224.0,240.4 224.2,240.2 224.5,240.0 224.8,239.8 225.0,239.5 225.2,239.3 225.5,239.1 225.8,238.9 226.0,238.7 226.2,238.6 226.5,238.6 226.8,238.5 227.0,238.6 227.2,238.6 227.5,238.7 227.8,238.9 228.0,239.1 228.2,239.3 228.5,239.5 228.8,239.7 229.0,239.9 229.2,240.1 229.5,240.3 229.8,240.5 230.0,240.6 230.2,240.7 230.5,240.8 230.8,240.8 231.0,240.7 231.2,240.7 231.5,240.5 231.8,240.4 232.0,240.2 232.2,240.0 232.5,239.8 232.8,239.6 233.0,239.4 233.2,239.2 233.5,239.1 233.8,238.9 234.0,238.8 234.2,238.8 234.5,238.7 234.8,238.7 235.0,238.8 235.2,238.9 235.5,239.0 235.8,239.1 236.0,239.3 236.2,239.5 236.5,239.6 236.8,239.8 237.0,240.0 237.2,240.2 237.5,240.3 237.8,240.4 238.0,240.5 238.2,240.5 238.5,240.5 238.8,240.5 239.0,240.5 239.2,240.4 239.5,240.3 239.8,240.2 240.0,240.0 240.2,239.9 240.5,239.7 240.8,239.5 241.0,239.4 241.2,239.3 241.5,239.2 241.8,239.1 242.0,239.0 242.2,239.0 242.5,239.0 242.8,239.0 243.0,239.1 243.2,239.1 243.5,239.2 243.8,239.3 244.0,239.5 244.2,239.6 244.5,239.7 244.8,239.9 245.0,240.0 245.2,240.0 245.5,240.0 245.8,240.0 246.0,239.9 246.2,239.8 246.5,239.7" fill="none" stroke="#111" stroke-width="1.3" stroke-linejoin="round" stroke-linecap="round"/>
<polyline points="54.5,239.7 54.8,239.7 55.0,239.7 55.2,239.7 55.5,239.7 55.8,239.7 56.0,239.7 56.2,239.7 56.5,239.7 56.8,239.7 57.0,239.7 57.2,239.7 57.5,239.7 57.8,239.7 58.0,239.7 58.2,239.7 58.5,239.6 58.8,239.5 59.0,239.4 59.2,239.3 59.5,239.2 59.8,239.1 60.0,239.0 60.2,238.9 60.5,238.9 60.8,238.9 61.0,239.0 61.2,239.1 61.5,239.2 61.8,239.4 62.0,239.6 62.2,239.9 62.5,240.2 62.8,240.5 63.0,240.8 63.2,241.1 63.5,241.5 63.8,241.8 64.0,242.1 64.2,242.4 64.5,242.5 64.8,242.6 65.0,242.6 65.2,242.4 65.5,242.1 65.8,241.7 66.0,241.1 66.2,240.5 66.5,239.8 66.8,239.0 67.0,238.1 67.2,237.3 67.5,236.4 67.8,235.7 68.0,235.0 68.2,234.1 68.5,233.4 68.8,232.8 69.0,232.4 69.2,232.3 69.5,232.5 69.8,233.0 70.0,233.9 70.2,235.0 70.5,236.5 70.8,238.2 71.0,240.1 71.2,242.1 71.5,244.3 71.8,246.5 72.0,248.6 72.2,250.5 72.5,252.1 72.8,253.4 73.0,254.4 73.2,254.8 73.5,254.8 73.8,254.3 74.0,253.3 74.2,251.7 74.5,249.7 74.8,247.3 75.0,244.5 75.2,241.4 75.5,238.1 75.8,234.7 76.0,231.3 76.2,228.1 76.5,225.1 76.8,222.4 77.0,220.3 77.2,219.0 77.5,218.4 77.8,218.5 78.0,219.2 78.2,220.6 78.5,222.6 78.8,225.2 79.0,228.2 79.2,231.6 79.5,235.2 79.8,239.0 80.0,242.9 80.2,246.6 80.5,250.2 80.8,253.4 81.0,256.2 81.2,258.5 81.5,260.2 81.8,261.2 82.0,261.6 82.2,261.1 82.5,260.0 82.8,258.2 83.0,255.9 83.2,253.0 83.5,249.8 83.8,246.4 84.0,242.7 84.2,239.0 84.5,235.4 84.8,232.0 85.0,228.8 85.2,226.1 85.5,223.8 85.8,222.0 86.0,220.8 86.2,220.3 86.5,220.4 86.8,221.2 87.0,222.5 87.2,224.3 87.5,226.6 87.8,229.2 88.0,232.1 88.2,235.2 88.5,238.3 88.8,241.4 89.0,244.4 89.2,247.2 89.5,249.7 89.8,251.8 90.0,253.5 90.2,254.6 90.5,255.3 90.8,255.5 91.0,255.1 91.2,254.3 91.5,253.0 91.8,251.3 92.0,249.3 92.2,247.1 92.5,244.7 92.8,242.2 93.0,239.7 93.2,237.2 93.5,235.0 93.8,232.9 94.0,231.2 94.2,229.7 94.5,228.7 94.8,228.0 95.0,227.7 95.2,227.9 95.5,228.3 95.8,229.2 96.0,230.3 96.2,231.8 96.5,233.4 96.8,235.2 97.0,237.1 97.2,239.0 97.5,240.9 97.8,242.7 98.0,244.3 98.2,245.7 98.5,246.9 98.8,247.7 99.0,248.3 99.2,248.7 99.5,248.8 99.8,248.6 100.0,248.1 100.2,247.3 100.5,246.2 100.8,245.0 101.0,243.6 101.2,242.1 101.5,240.5 101.8,238.9 102.0,237.4 102.2,236.0 102.5,234.7 102.8,233.5 103.0,232.6 103.2,232.0 103.5,231.6 103.8,231.5 104.0,231.7 104.2,232.2 104.5,232.9 104.8,233.8 105.0,234.9 105.2,236.2 105.5,237.5 105.8,239.0 106.0,240.4 106.2,241.9 106.5,243.2 106.8,244.4 107.0,245.5 107.2,246.3 107.5,246.9 107.8,247.3 108.0,247.4 108.2,247.2 108.5,246.8 108.8,246.1 109.0,245.2 109.2,244.1 109.5,242.9 109.8,241.5 110.0,240.1 110.2,238.7 110.5,237.3 110.8,236.0 111.0,234.9 111.2,233.9 111.5,233.1 111.8,232.6 112.0,232.3 112.2,232.3 112.5,232.6 112.8,233.1 113.0,233.8 113.2,234.8 113.5,235.9 113.8,237.1 114.0,238.5 114.2,239.9 114.5,241.2 114.8,242.6 115.0,243.8 115.2,244.8 115.5,245.7 115.8,246.3 116.0,246.7 116.2,246.9 116.5,246.7 116.8,246.4 117.0,245.8 117.2,244.9 117.5,243.9 117.8,242.7 118.0,241.4 118.2,240.1 118.5,238.7 118.8,237.4 119.0,236.2 119.2,235.1 119.5,234.2 119.8,233.5 120.0,233.0 120.2,232.8 120.5,232.8 120.8,233.1 121.0,233.6 121.2,234.4 121.5,235.3 121.8,236.5 122.0,237.7 122.2,239.0 122.5,240.3 122.8,241.6 123.0,242.9 123.2,244.0 123.5,244.9 123.8,245.6 124.0,246.2 124.2,246.4 124.5,246.4 124.8,246.2 125.0,245.7 125.2,244.9 125.5,244.0 125.8,242.9 126.0,241.7 126.2,240.4 126.5,239.1 126.8,237.8 127.0,236.6 127.2,235.6 127.5,234.6 127.8,233.9 128.0,233.4 128.2,233.2 128.5,233.2 128.8,233.5 129.0,234.0 129.2,234.7 129.5,235.7 129.8,236.7 130.0,237.9 130.2,239.2 130.5,240.4 130.8,241.6 131.0,242.8 131.2,243.8 131.5,244.6 131.8,245.2 132.0,245.6 132.2,245.8 132.5,245.8 132.8,245.4 133.0,244.9 133.2,244.2 133.5,243.3 133.8,242.3 134.0,241.1 134.2,240.0 134.5,238.8 134.8,237.7 135.0,236.6 135.2,235.7 135.5,235.0 135.8,234.4 136.0,234.1 136.2,234.0 136.5,234.1 136.8,234.4 137.0,235.0 137.2,235.7 137.5,236.5 137.8,237.5 138.0,238.6 138.2,239.7 138.5,240.8 138.8,241.8 139.0,242.7 139.2,243.5 139.5,244.2 139.8,244.7 140.0,244.9 140.2,245.0 140.5,244.9 140.8,244.5 141.0,244.0 141.2,243.3 141.5,242.4 141.8,241.5 142.0,240.5 142.2,239.5 142.5,238.5 142.8,237.6 143.0,236.7 143.2,236.0 143.5,235.4 143.8,235.0 144.0,234.8 144.2,234.8 144.5,235.0 144.8,235.4 145.0,235.9 145.2,236.6 145.5,237.3 145.8,238.2 146.0,239.1 146.2,240.1 146.5,241.0 146.8,241.9 147.0,242.6 147.2,243.3 147.5,243.8 147.8,244.1 148.0,244.3 148.2,244.2 148.5,244.0 148.8,243.7 149.0,243.1 149.2,242.5 149.5,241.7 149.8,240.9 150.0,240.0 150.2,239.2 150.5,238.3 150.8,237.5 151.0,236.8 151.2,236.3 151.5,235.8 151.8,235.6 152.0,235.5 152.2,235.5 152.5,235.7 152.8,236.1 153.0,236.6 153.2,237.3 153.5,238.0 153.8,238.8 154.0,239.6 154.2,240.4 154.5,241.2 154.8,241.9 155.0,242.5 155.2,243.0 155.5,243.3 155.8,243.6 156.0,243.6 156.2,243.5 156.5,243.3 156.8,242.9 157.0,242.4 157.2,241.8 157.5,241.1 157.8,240.4 158.0,239.6 158.2,238.9 158.5,238.2 158.8,237.6 159.0,237.0 159.2,236.6 159.5,236.3 159.8,236.1 160.0,236.1 160.2,236.2 160.5,236.5 160.8,236.9 161.0,237.4 161.2,237.9 161.5,238.6 161.8,239.2 162.0,239.9 162.2,240.6 162.5,241.2 162.8,241.8 163.0,242.2 163.2,242.6 163.5,242.8 163.8,243.0 164.0,242.9 164.2,242.8 164.5,242.5 164.8,242.2 165.0,241.7 165.2,241.2 165.5,240.6 165.8,240.0 166.0,239.4 166.2,238.8 166.5,238.2 166.8,237.7 167.0,237.3 167.2,237.0 167.5,236.8 167.8,236.8 168.0,236.8 168.2,237.0 168.5,237.2 168.8,237.6 169.0,238.0 169.2,238.5 169.5,239.0 169.8,239.6 170.0,240.1 170.2,240.7 170.5,241.2 170.8,241.6 171.0,242.0 171.2,242.2 171.5,242.4 171.8,242.4 172.0,242.4 172.2,242.2 172.5,242.0 172.8,241.6 173.0,241.2 173.2,240.7 173.5,240.2 173.8,239.7 174.0,239.1 174.2,238.6 174.5,238.2 174.8,237.8 175.0,237.5 175.2,237.2 175.5,237.1 175.8,237.1 176.0,237.2 176.2,237.4 176.5,237.6 176.8,238.0 177.0,238.4 177.2,238.9 177.5,239.3 177.8,239.9 178.0,240.4 178.2,240.8 178.5,241.2 178.8,241.6 179.0,241.9 179.2,242.1 179.5,242.2 179.8,242.2 180.0,242.1 180.2,241.9 180.5,241.6 180.8,241.2 181.0,240.8 181.2,240.4 181.5,239.9 181.8,239.4 182.0,239.0 182.2,238.5 182.5,238.2 182.8,237.8 183.0,237.6 183.2,237.4 183.5,237.4 183.8,237.4 184.0,237.5 184.2,237.7 184.5,238.0 184.8,238.3 185.0,238.7 185.2,239.2 185.5,239.6 185.8,240.1 186.0,240.5 186.2,240.9 186.5,241.2 186.8,241.5 187.0,241.7 187.2,241.9 187.5,241.9 187.8,241.8 188.0,241.7 188.2,241.5 188.5,241.2 188.8,240.9 189.0,240.5 189.2,240.1 189.5,239.7 189.8,239.2 190.0,238.8 190.2,238.5 190.5,238.2 190.8,237.9 191.0,237.8 191.2,237.7 191.5,237.6 191.8,237.7 192.0,237.9 192.2,238.1 192.5,238.4 192.8,238.7 193.0,239.1 193.2,239.5 193.5,239.8 193.8,240.2 194.0,240.6 194.2,240.9 194.5,241.2 194.8,241.4 195.0,241.5 195.2,241.6 195.5,241.6 195.8,241.5 196.0,241.4 196.2,241.1 196.5,240.9 196.8,240.5 197.0,240.2 197.2,239.8 197.5,239.5 197.8,239.1 198.0,238.8 198.2,238.5 198.5,238.3 198.8,238.1 199.0,238.0 199.2,237.9 199.5,238.0 199.8,238.1 200.0,238.2 200.2,238.4 200.5,238.7 200.8,239.0 201.0,239.3 201.2,239.7 201.5,240.0 201.8,240.3 202.0,240.6 202.2,240.9 202.5,241.1 202.8,241.3 203.0,241.4 203.2,241.4 203.5,241.3 203.8,241.2 204.0,241.1 204.2,240.8 204.5,240.6 204.8,240.3 205.0,240.0 205.2,239.6 205.5,239.3 205.8,239.0 206.0,238.7 206.2,238.5 206.5,238.3 206.8,238.2 207.0,238.1 207.2,238.1 207.5,238.2 207.8,238.3 208.0,238.5 208.2,238.7 208.5,239.0 208.8,239.2 209.0,239.5 209.2,239.9 209.5,240.2 209.8,240.4 210.0,240.7 210.2,240.9 210.5,241.1 210.8,241.2 211.0,241.2 211.2,241.2 211.5,241.1 211.8,241.0 212.0,240.8 212.2,240.6 212.5,240.3 212.8,240.0 213.0,239.8 213.2,239.5 213.5,239.2 213.8,238.9 214.0,238.7 214.2,238.5 214.5,238.4 214.8,238.3 215.0,238.3 215.2,238.3 215.5,238.4 215.8,238.5 216.0,238.7 216.2,238.9 216.5,239.2 216.8,239.5 217.0,239.7 217.2,240.0 217.5,240.3 217.8,240.5 218.0,240.7 218.2,240.9 218.5,241.0 218.8,241.0 219.0,241.0 219.2,241.0 219.5,240.9 219.8,240.7 220.0,240.6 220.2,240.3 220.5,240.1 220.8,239.9 221.0,239.6 221.2,239.3 221.5,239.1 221.8,238.9 222.0,238.7 222.2,238.6 222.5,238.5 222.8,238.5 223.0,238.5 223.2,238.5 223.5,238.6 223.8,238.8 224.0,239.0 224.2,239.2 224.5,239.4 224.8,239.6 225.0,239.9 225.2,240.1 225.5,240.3 225.8,240.5 226.0,240.7 226.2,240.8 226.5,240.8 226.8,240.9 227.0,240.8 227.2,240.8 227.5,240.7 227.8,240.5 228.0,240.3 228.2,240.1 228.5,239.9 228.8,239.7 229.0,239.5 229.2,239.3 229.5,239.1 229.8,238.9 230.0,238.8 230.2,238.7 230.5,238.6 230.8,238.6 231.0,238.7 231.2,238.7 231.5,238.9 231.8,239.0 232.0,239.2 232.2,239.4 232.5,239.6 232.8,239.8 233.0,240.0 233.2,240.2 233.5,240.3 233.8,240.5 234.0,240.6 234.2,240.6 234.5,240.7 234.8,240.7 235.0,240.6 235.2,240.5 235.5,240.4 235.8,240.3 236.0,240.1 236.2,239.9 236.5,239.8 236.8,239.6 237.0,239.4 237.2,239.2 237.5,239.1 237.8,239.0 238.0,238.9 238.2,238.9 238.5,238.9 238.8,238.9 239.0,238.9 239.2,239.0 239.5,239.1 239.8,239.2 240.0,239.4 240.2,239.5 240.5,239.7 240.8,239.9 241.0,240.0 241.2,240.1 241.5,240.2 241.8,240.3 242.0,240.4 242.2,240.4 242.5,240.4 242.8,240.4 243.0,240.3 243.2,240.3 243.5,240.2 243.8,240.1 244.0,239.9 244.2,239.8 244.5,239.7 244.8,239.5 245.0,239.4 245.2,239.4 245.5,239.4 245.8,239.4 246.0,239.5 246.2,239.6 246.5,239.7 246.8,239.7 247.0,239.7 247.2,239.7 247.5,239.7 247.8,239.7 248.0,239.7 248.2,239.7 248.5,239.7 248.8,239.7 249.0,239.7 249.2,239.7 249.5,239.7 249.8,239.7 250.0,239.7 250.2,239.7 250.5,239.7 250.8,239.7 251.0,239.7 251.2,239.7 251.5,239.7 251.8,239.7 252.0,239.7 252.2,239.7 252.5,239.7 252.8,239.7 253.0,239.7 253.2,239.7 253.5,239.7 253.8,239.7 254.0,239.7 254.2,239.7 254.5,239.7 254.8,239.7 255.0,239.7 255.2,239.7 255.5,239.7 255.8,239.7 256.0,239.7 256.2,239.7 256.5,239.7 256.8,239.7 257.0,239.7 257.2,239.7 257.5,239.7 257.8,239.7 258.0,239.7 258.2,239.7 258.5,239.7 258.8,239.7 259.0,239.7 259.2,239.7 259.5,239.7 259.8,239.7 260.0,239.7 260.2,239.7 260.5,239.7 260.8,239.7 261.0,239.7 261.2,239.7 261.5,239.7 261.8,239.7 262.0,239.7 262.2,239.7 262.5,239.7 262.8,239.7 263.0,239.7 263.2,239.7 263.5,239.7 263.8,239.7 264.0,239.7 264.2,239.7 264.5,239.7 264.8,239.7 265.0,239.7 265.2,239.7 265.5,239.7 265.8,239.7 266.0,239.7 266.2,239.7 266.5,239.7 266.8,239.7 267.0,239.7 267.2,239.7 267.5,239.7 267.8,239.7 268.0,239.7 268.2,239.7 268.5,239.7 268.8,239.7 269.0,239.7 269.2,239.7 269.5,239.7 269.8,239.7 270.0,239.7 270.2,239.7 270.5,239.7 270.8,239.7 271.0,239.7 271.2,239.7 271.5,239.7 271.8,239.7 272.0,239.7 272.2,239.7 272.5,239.7 272.8,239.7 273.0,239.7 273.2,239.7 273.5,239.7 273.8,239.7 274.0,239.7 274.2,239.7 274.5,239.7 274.8,239.7 275.0,239.7 275.2,239.7 275.5,239.7 275.8,239.7 276.0,239.7 276.2,239.7 276.5,239.7 276.8,239.7 277.0,239.7 277.2,239.7 277.5,239.7 277.8,239.7 278.0,239.7 278.2,239.7 278.5,239.7 278.8,239.7 279.0,239.7 279.2,239.7 279.5,239.7 279.8,239.7 280.0,239.7 280.2,239.7 280.5,239.7 280.8,239.7 281.0,239.7 281.2,239.7 281.5,239.7 281.8,239.7 282.0,239.7 282.2,239.7 282.5,239.7 282.8,239.7 283.0,239.7 283.2,239.7 283.5,239.7 283.8,239.7 284.0,239.7 284.2,239.7 284.5,239.7 284.8,239.7 285.0,239.7 285.2,239.7 285.5,239.7 285.8,239.7 286.0,239.7 286.2,239.7 286.5,239.7 286.8,239.7 287.0,239.7 287.2,239.7 287.5,239.7 287.8,239.7 288.0,239.7 288.2,239.7 288.5,239.7 288.8,239.7 289.0,239.7 289.2,239.7 289.5,239.7 289.8,239.7 290.0,239.7" fill="none" stroke="#ee1111" stroke-width="1.3" stroke-linejoin="round" stroke-linecap="round"/>
<line x1="128" y1="219.9" x2="93.20" y2="219.90" stroke="#56637a" stroke-width="1.2"/>
<polygon points="89.20,219.90 94.20,217.90 94.20,221.90" fill="#56637a"/>
<line x1="128" y1="259.2" x2="93.20" y2="259.20" stroke="#56637a" stroke-width="1.2"/>
<polygon points="89.20,259.20 94.20,257.20 94.20,261.20" fill="#56637a"/>
<text x="127.6" y="227.7" font-size="10.5" fill="#231f20">+</text>
<text x="133.7" y="227.7" font-size="10.5" font-style="italic" fill="#231f20">B</text>
<text x="140.8" y="221.2" font-size="7" fill="#231f20">NF</text>
<text x="141.2" y="231.3" font-size="7" fill="#231f20">THz</text>
<text x="127.8" y="259.9" font-size="10.5" fill="#231f20">−</text>
<text x="134.2" y="259.9" font-size="10.5" font-style="italic" fill="#231f20">B</text>
<text x="140.8" y="251" font-size="7" fill="#231f20">NF</text>
<text x="141.2" y="262.2" font-size="7" fill="#231f20">THz</text>
<text x="20.6" y="239.7" font-size="11.5" text-anchor="middle" fill="#231f20" transform="rotate(-90 20.6 239.7)">Normalized</text>
<text x="0" y="0" font-size="11.5" fill="#231f20" transform="translate(33.6,238.5) rotate(-90)" text-anchor="middle"><tspan font-style="italic">B</tspan><tspan font-size="7.5" dy="-4.6">NF</tspan><tspan font-size="7.5" dx="-8.6" dy="7.6">THz</tspan></text>
<rect x="54.5" y="273.5" width="236.0" height="170.0" fill="none" stroke="#6b6b6b" stroke-width="1"/>
<line x1="66.3" y1="443.5" x2="66.3" y2="437.5" stroke="#6b6b6b" stroke-width="1"/>
<line x1="103.6" y1="443.5" x2="103.6" y2="440.3" stroke="#6b6b6b" stroke-width="1"/>
<line x1="140.89999999999998" y1="443.5" x2="140.89999999999998" y2="440.3" stroke="#6b6b6b" stroke-width="1"/>
<line x1="178.2" y1="443.5" x2="178.2" y2="440.3" stroke="#6b6b6b" stroke-width="1"/>
<line x1="215.5" y1="443.5" x2="215.5" y2="440.3" stroke="#6b6b6b" stroke-width="1"/>
<line x1="252.8" y1="443.5" x2="252.8" y2="437.5" stroke="#6b6b6b" stroke-width="1"/>
<text x="66.3" y="456.6" font-size="10" text-anchor="middle" fill="#231f20">0</text>
<text x="252.7" y="456.6" font-size="10" text-anchor="middle" fill="#231f20">50</text>
<text x="172.7" y="467" font-size="11.5" fill="#231f20" text-anchor="middle">Time delay <tspan font-style="italic">t</tspan> (ps)</text>
<text x="49.8" y="305.1" font-size="10" text-anchor="end" fill="#231f20">0.2</text>
<text x="49.8" y="361.6" font-size="10" text-anchor="end" fill="#231f20">0.1</text>
<text x="49.8" y="417.6" font-size="10" text-anchor="end" fill="#231f20">0</text>
<text x="0" y="0" font-size="11.5" fill="#231f20" transform="translate(30.2,358.3) rotate(-90)" text-anchor="middle">Δ<tspan font-style="italic">η</tspan> (°)</text>
<polyline points="54.5,303.0 55.0,302.9 55.5,302.9 56.0,302.8 56.5,302.7 57.0,302.7 57.5,302.6 58.0,302.5 58.5,302.5 59.0,302.4 59.5,302.3 60.0,302.3 60.5,302.2 61.0,302.1 61.5,302.1 62.0,302.0 62.5,302.1 63.0,302.2 63.5,302.4 64.0,302.5 64.5,302.6 65.0,302.8 65.5,302.9 66.0,302.9 66.5,302.6 67.0,302.1 67.5,301.7 68.0,301.3 68.5,300.9 69.0,300.4 69.5,300.0 70.0,299.7 70.5,299.7 71.0,299.9 71.5,300.2 72.0,300.5 72.5,300.9 73.0,301.2 73.5,301.5 74.0,301.8 74.5,302.1 75.0,302.4 75.5,302.7 76.0,303.0 76.5,303.3 77.0,303.6 77.5,303.8 78.0,303.4 78.5,302.9 79.0,302.2 79.5,301.6 80.0,300.9 80.5,300.3 81.0,300.2 81.5,301.3 82.0,303.7 82.5,306.3 83.0,309.0 83.5,311.6 84.0,314.3 84.5,316.9 85.0,318.7 85.5,318.6 86.0,317.6 86.5,316.6 87.0,315.5 87.5,314.5 88.0,313.5 88.5,313.2 89.0,314.6 89.5,317.0 90.0,319.6 90.5,322.2 91.0,324.8 91.5,327.4 92.0,329.7 92.5,330.6 93.0,330.0 93.5,328.9 94.0,327.8 94.5,326.7 95.0,325.5 95.5,324.4 96.0,324.0 96.5,324.8 97.0,326.4 97.5,327.9 98.0,329.4 98.5,330.9 99.0,332.5 99.5,333.4 100.0,333.1 100.5,331.8 101.0,330.5 101.5,329.1 102.0,327.7 102.5,326.4 103.0,325.3 103.5,325.0 104.0,325.6 104.5,326.6 105.0,327.7 105.5,328.7 106.0,329.1 106.5,328.1 107.0,326.6 107.5,325.0 108.0,323.4 108.5,321.9 109.0,320.3 109.5,318.8 110.0,317.2 110.5,315.9 111.0,315.4 111.5,315.6 112.0,315.9 112.5,316.3 113.0,316.5 113.5,316.2 114.0,315.0 114.5,313.4 115.0,311.8 115.5,310.2 116.0,308.6 116.5,307.0 117.0,305.4 117.5,303.8 118.0,302.6 118.5,302.2 119.0,302.2 119.5,302.2 120.0,302.2 120.5,302.0 121.0,301.3 121.5,299.9 122.0,298.2 122.5,296.5 123.0,294.9 123.5,293.2 124.0,291.6 124.5,290.7 125.0,290.6 125.5,290.9 126.0,291.2 126.5,291.6 127.0,291.6 127.5,291.1 128.0,289.9 128.5,288.7 129.0,287.4 129.5,286.1 130.0,284.8 130.5,283.6 131.0,283.1 131.5,283.6 132.0,284.5 132.5,285.4 133.0,286.4 133.5,287.3 134.0,288.2 134.5,288.8 135.0,288.7 135.5,288.0 136.0,287.3 136.5,286.7 137.0,286.0 137.5,285.4 138.0,285.4 138.5,286.4 139.0,287.8 139.5,289.2 140.0,290.6 140.5,292.0 141.0,293.4 141.5,294.2 142.0,293.9 142.5,293.1 143.0,292.2 143.5,291.4 144.0,290.5 144.5,290.0 145.0,290.5 145.5,291.7 146.0,293.3 146.5,294.8 147.0,296.3 147.5,297.9 148.0,299.2 148.5,299.7 149.0,299.3 149.5,298.5 150.0,297.8 150.5,297.0 151.0,296.3 151.5,295.5 152.0,295.4 152.5,296.3 153.0,297.8 153.5,299.3 154.0,300.7 154.5,302.2 155.0,303.7 155.5,304.9 156.0,305.3 156.5,305.0 157.0,304.5 157.5,304.0 158.0,303.6 158.5,303.1 159.0,302.7 159.5,302.7 160.0,303.4 160.5,304.4 161.0,305.4 161.5,306.5 162.0,307.5 162.5,308.5 163.0,309.0 163.5,308.7 164.0,307.9 164.5,307.1 165.0,306.3 165.5,305.6 166.0,305.2 166.5,305.3 167.0,305.8 167.5,306.6 168.0,306.9 168.5,306.8 169.0,306.6 169.5,306.3 170.0,305.8 170.5,305.5 171.0,305.4 171.5,305.2 172.0,305.2 172.5,305.5 173.0,306.0 173.5,306.6 174.0,307.1 174.5,307.2 175.0,307.0 175.5,306.4 176.0,305.5 176.5,304.6 177.0,303.9 177.5,303.1 178.0,302.5 178.5,302.1 179.0,301.7 179.5,301.6 180.0,301.7 180.5,302.0 181.0,302.6 181.5,302.8 182.0,302.6 182.5,302.5 183.0,301.9 183.5,301.1 184.0,300.3 184.5,299.6 185.0,299.1 185.5,298.9 186.0,298.9 186.5,299.1 187.0,299.6 187.5,299.9 188.0,300.2 188.5,300.4 189.0,300.4 189.5,300.4 190.0,300.1 190.5,299.5 191.0,298.7 191.5,297.8 192.0,297.2 192.5,297.0 193.0,297.2 193.5,297.4 194.0,297.8 194.5,298.1 195.0,298.5 195.5,299.0 196.0,299.2 196.5,299.1 197.0,298.8 197.5,298.4 198.0,297.7 198.5,297.0 199.0,296.6 199.5,296.3 200.0,296.2 200.5,296.3 201.0,296.5 201.5,296.9 202.0,297.4 202.5,297.9 203.0,298.2 203.5,298.1 204.0,298.1 204.5,297.8 205.0,296.9 205.5,296.2 206.0,295.8 206.5,295.7 207.0,295.8 207.5,295.8 208.0,296.1 208.5,296.7 209.0,297.4 209.5,298.1 210.0,298.6 210.5,298.9 211.0,299.0 211.5,299.1 212.0,298.7 212.5,298.1 213.0,297.5 213.5,297.0 214.0,296.9 214.5,297.0 215.0,297.3 215.5,297.8 216.0,298.5 216.5,299.2 217.0,299.8 217.5,300.1 218.0,300.3 218.5,300.3 219.0,300.1 219.5,299.7 220.0,299.2 220.5,298.6 221.0,298.5 221.5,298.6 222.0,298.5 222.5,298.6 223.0,299.1 223.5,299.6 224.0,300.3 224.5,301.1 225.0,301.6 225.5,301.5 226.0,301.3 226.5,300.9 227.0,300.5 227.5,300.0 228.0,299.7 228.5,299.6 229.0,299.7 229.5,300.2 230.0,300.7 230.5,301.3 231.0,301.8 231.5,302.2 232.0,302.5 232.5,302.7 233.0,302.6 233.5,302.2 234.0,301.7 234.5,301.4 235.0,301.0 235.5,300.7 236.0,300.8 236.5,301.2 237.0,301.7 237.5,302.1 238.0,302.4 238.5,303.2 239.0,303.7 239.5,303.8 240.0,303.8 240.5,303.6 241.0,303.2 241.5,302.8 242.0,302.5 242.5,302.1 243.0,301.7 243.5,301.7 244.0,302.3 244.5,302.9 245.0,303.2 245.5,303.4 246.0,303.8 246.5,304.0 247.0,303.8 247.5,303.4 248.0,302.8 248.5,302.1 249.0,301.4 249.5,301.0 250.0,300.8 250.5,300.6 251.0,300.6 251.5,300.8 252.0,301.2 252.5,301.6 253.0,302.0 253.5,302.4 254.0,302.3 254.5,301.8 255.0,301.3 255.5,300.9 256.0,300.3 256.5,299.6 257.0,299.1 257.5,298.8 258.0,299.1 258.5,299.7 259.0,300.2 259.5,300.8 260.0,301.5 260.5,301.8 261.0,301.6 261.5,301.1 262.0,300.9 262.5,300.7 263.0,300.4 263.5,299.8 264.0,299.1 264.5,299.1 265.0,299.4 265.5,299.5 266.0,299.9 266.5,300.6 267.0,301.0 267.5,301.3 268.0,301.6 268.5,301.6 269.0,301.4 269.5,301.2 270.0,300.8 270.5,300.1 271.0,299.6 271.5,299.4 272.0,299.3 272.5,299.5 273.0,300.0 273.5,300.6 274.0,301.2 274.5,301.4 275.0,301.5 275.5,301.7 276.0,301.8 276.5,301.5 277.0,301.0 277.5,300.5 278.0,300.1 278.5,299.8 279.0,299.7 279.5,299.7 280.0,300.1 280.5,300.5 281.0,301.0 281.5,301.6 282.0,301.8 282.5,302.1 283.0,302.2 283.5,301.9 284.0,301.4 284.5,300.9 285.0,300.5 285.5,300.3 286.0,300.1 286.5,300.0 287.0,300.2 287.5,300.7 288.0,301.4 288.5,301.9 289.0,302.2 289.5,302.7" fill="none" stroke="#f29c0a" stroke-width="2.3" stroke-linejoin="round" stroke-linecap="round"/>
<polyline points="54.5,331.6 55.0,331.6 55.5,331.7 56.0,331.7 56.5,331.8 57.0,331.8 57.5,331.9 58.0,331.9 58.5,332.0 59.0,332.0 59.5,332.0 60.0,332.1 60.5,332.1 61.0,332.2 61.5,332.2 62.0,332.3 62.5,332.3 63.0,332.4 63.5,332.4 64.0,332.4 64.5,332.5 65.0,332.6 65.5,332.8 66.0,332.9 66.5,333.1 67.0,333.2 67.5,333.0 68.0,331.9 68.5,330.3 69.0,328.8 69.5,327.4 70.0,326.8 70.5,327.4 71.0,328.6 71.5,329.7 72.0,330.9 72.5,332.0 73.0,333.2 73.5,334.3 74.0,334.8 74.5,334.5 75.0,333.7 75.5,333.0 76.0,332.3 76.5,331.6 77.0,330.9 77.5,330.2 78.0,329.5 78.5,329.3 79.0,330.2 79.5,331.6 80.0,333.0 80.5,334.5 81.0,335.9 81.5,337.3 82.0,338.7 82.5,340.1 83.0,341.2 83.5,341.6 84.0,341.6 84.5,341.4 85.0,341.3 85.5,341.1 86.0,341.2 86.5,341.5 87.0,342.0 87.5,342.6 88.0,343.1 88.5,343.8 89.0,345.1 89.5,346.8 90.0,348.5 90.5,350.3 91.0,352.0 91.5,353.7 92.0,355.3 92.5,356.3 93.0,356.7 93.5,356.8 94.0,357.0 94.5,357.1 95.0,357.2 95.5,357.4 96.0,357.8 96.5,358.8 97.0,360.1 97.5,361.3 98.0,362.6 98.5,363.9 99.0,365.2 99.5,366.1 100.0,366.1 100.5,365.6 101.0,364.9 101.5,364.3 102.0,363.7 102.5,363.0 103.0,362.5 103.5,362.6 104.0,363.4 104.5,364.4 105.0,365.4 105.5,366.4 106.0,367.4 106.5,368.4 107.0,368.8 107.5,368.2 108.0,366.9 108.5,365.7 109.0,364.4 109.5,363.2 110.0,361.9 110.5,361.0 111.0,360.7 111.5,361.0 112.0,361.5 112.5,362.1 113.0,362.5 113.5,362.4 114.0,361.6 114.5,360.4 115.0,359.3 115.5,358.1 116.0,357.1 116.5,356.3 117.0,355.7 117.5,355.2 118.0,354.7 118.5,354.2 119.0,353.7 119.5,353.2 120.0,352.7 120.5,352.2 121.0,351.7 121.5,351.2 122.0,350.7 122.5,350.2 123.0,349.7 123.5,349.2 124.0,348.8 124.5,348.3 125.0,348.0 125.5,347.6 126.0,347.0 126.5,346.4 127.0,345.9 127.5,345.3 128.0,345.0 128.5,344.9 129.0,344.5 129.5,344.2 130.0,344.1 130.5,343.8 131.0,343.5 131.5,343.0 132.0,342.2 132.5,341.6 133.0,341.2 133.5,340.8 134.0,340.4 134.5,340.0 135.0,339.7 135.5,339.6 136.0,339.5 136.5,339.1 137.0,339.0 137.5,339.1 138.0,338.9 138.5,338.7 139.0,338.3 139.5,337.8 140.0,337.3 140.5,336.7 141.0,336.4 141.5,336.3 142.0,336.2 142.5,336.0 143.0,335.7 143.5,335.9 144.0,336.2 144.5,336.1 145.0,335.9 145.5,335.7 146.0,335.6 146.5,335.4 147.0,335.2 147.5,335.0 148.0,334.6 148.5,334.1 149.0,334.1 149.5,333.8 150.0,333.6 150.5,333.8 151.0,333.8 151.5,333.9 152.0,334.2 152.5,334.2 153.0,334.2 153.5,334.1 154.0,333.6 154.5,333.3 155.0,333.4 155.5,333.4 156.0,333.2 156.5,333.1 157.0,333.4 157.5,333.7 158.0,334.1 158.5,334.2 159.0,334.2 159.5,334.4 160.0,334.8 160.5,335.1 161.0,334.9 161.5,334.7 162.0,334.7 162.5,334.7 163.0,334.6 163.5,334.4 164.0,334.5 164.5,334.7 165.0,335.3 165.5,335.8 166.0,335.6 166.5,335.4 167.0,335.5 167.5,335.5 168.0,335.3 168.5,334.9 169.0,334.4 169.5,333.8 170.0,333.3 170.5,333.0 171.0,333.0 171.5,333.0 172.0,332.9 172.5,332.5 173.0,332.2 173.5,332.4 174.0,332.6 174.5,332.7 175.0,332.6 175.5,332.3 176.0,332.1 176.5,331.8 177.0,331.1 177.5,330.6 178.0,330.2 178.5,330.2 179.0,330.1 179.5,329.6 180.0,329.5 180.5,329.7 181.0,329.8 181.5,329.6 182.0,329.3 182.5,328.9 183.0,328.7 183.5,328.2 184.0,327.7 184.5,327.4 185.0,327.3 185.5,327.3 186.0,327.3 186.5,327.2 187.0,327.5 187.5,327.9 188.0,328.2 188.5,328.5 189.0,328.8 189.5,328.9 190.0,328.8 190.5,328.6 191.0,328.7 191.5,328.6 192.0,328.5 192.5,328.6 193.0,328.7 193.5,328.6 194.0,328.6 194.5,328.8 195.0,329.2 195.5,329.5 196.0,329.6 196.5,329.6 197.0,329.8 197.5,330.0 198.0,329.6 198.5,329.0 199.0,328.8 199.5,329.0 200.0,329.3 200.5,329.4 201.0,329.4 201.5,329.5 202.0,329.9 202.5,330.1 203.0,330.1 203.5,330.3 204.0,330.5 204.5,330.3 205.0,330.1 205.5,330.0 206.0,329.7 206.5,329.5 207.0,329.4 207.5,329.5 208.0,329.8 208.5,330.3 209.0,330.4 209.5,330.2 210.0,330.4 210.5,330.8 211.0,330.8 211.5,330.6 212.0,330.8 212.5,331.1 213.0,330.9 213.5,330.2 214.0,330.1 214.5,330.3 215.0,330.2 215.5,330.3 216.0,330.6 216.5,330.6 217.0,330.2 217.5,330.0 218.0,329.8 218.5,329.8 219.0,329.8 219.5,329.6 220.0,329.1 220.5,328.7 221.0,328.2 221.5,327.7 222.0,327.4 222.5,327.1 223.0,327.0 223.5,326.9 224.0,327.0 224.5,327.2 225.0,327.5 225.5,327.8 226.0,327.9 226.5,327.8 227.0,327.7 227.5,327.9 228.0,327.8 228.5,327.2 229.0,326.8 229.5,326.9 230.0,327.3 230.5,327.7 231.0,328.0 231.5,327.9 232.0,327.7 232.5,327.8 233.0,328.2 233.5,328.4 234.0,328.4 234.5,328.0 235.0,327.6 235.5,327.6 236.0,327.6 236.5,327.4 237.0,327.4 237.5,327.9 238.0,328.3 238.5,328.7 239.0,329.0 239.5,329.1 240.0,328.8 240.5,328.8 241.0,329.2 241.5,329.3 242.0,329.0 242.5,328.6 243.0,328.4 243.5,328.3 244.0,328.2 244.5,327.9 245.0,327.8 245.5,328.3 246.0,328.8 246.5,329.0 247.0,329.0 247.5,328.9 248.0,328.9 248.5,328.7 249.0,328.1 249.5,327.6 250.0,327.3 250.5,327.1 251.0,327.0 251.5,326.8 252.0,326.8 252.5,326.9 253.0,327.0 253.5,327.4 254.0,327.6 254.5,327.6 255.0,327.7 255.5,327.7 256.0,327.6 256.5,327.2 257.0,326.8 257.5,326.6 258.0,326.4 258.5,326.1 259.0,325.8 259.5,326.1 260.0,326.5 260.5,326.5 261.0,326.7 261.5,327.2 262.0,327.4 262.5,327.2 263.0,327.0 263.5,326.9 264.0,326.6 264.5,326.3 265.0,326.1 265.5,325.9 266.0,325.9 266.5,326.0 267.0,326.2 267.5,326.7 268.0,327.1 268.5,327.3 269.0,327.5 269.5,327.7 270.0,327.8 270.5,327.7 271.0,327.4 271.5,326.9 272.0,326.5 272.5,326.3 273.0,326.4 273.5,326.4 274.0,326.6 274.5,326.8 275.0,327.0 275.5,327.4 276.0,327.7 276.5,327.6 277.0,327.7 277.5,327.8 278.0,327.7 278.5,327.4 279.0,327.0 279.5,326.8 280.0,326.6 280.5,326.5 281.0,326.6 281.5,327.0 282.0,327.5 282.5,327.7 283.0,328.0 283.5,328.2 284.0,328.2 284.5,328.4 285.0,328.4 285.5,328.1 286.0,327.7 286.5,327.6 287.0,327.5 287.5,327.1 288.0,327.1 288.5,327.7 289.0,328.0 289.5,328.3" fill="none" stroke="#f50f0f" stroke-width="2.3" stroke-linejoin="round" stroke-linecap="round"/>
<polyline points="54.5,359.3 55.0,359.2 55.5,359.2 56.0,359.1 56.5,359.1 57.0,359.0 57.5,359.0 58.0,358.9 58.5,358.9 59.0,358.8 59.5,358.8 60.0,358.7 60.5,358.7 61.0,358.6 61.5,358.5 62.0,358.5 62.5,358.4 63.0,358.3 63.5,358.1 64.0,357.8 64.5,357.6 65.0,357.3 65.5,357.0 66.0,356.8 66.5,356.8 67.0,357.5 67.5,358.4 68.0,359.4 68.5,360.3 69.0,361.3 69.5,362.1 70.0,362.4 70.5,361.9 71.0,360.9 71.5,360.0 72.0,359.0 72.5,358.1 73.0,357.2 73.5,356.2 74.0,355.5 74.5,355.4 75.0,356.1 75.5,357.1 76.0,358.1 76.5,359.1 77.0,360.0 77.5,361.0 78.0,362.0 78.5,363.0 79.0,363.6 79.5,363.4 80.0,362.9 80.5,362.3 81.0,361.7 81.5,361.1 82.0,360.6 82.5,360.0 83.0,359.7 83.5,360.2 84.0,361.1 84.5,362.1 85.0,363.1 85.5,364.1 86.0,365.1 86.5,366.1 87.0,367.1 87.5,368.1 88.0,369.1 88.5,369.8 89.0,370.0 89.5,369.7 90.0,369.4 90.5,369.1 91.0,368.8 91.5,368.9 92.0,369.6 92.5,370.5 93.0,371.4 93.5,372.3 94.0,373.2 94.5,374.1 95.0,375.0 95.5,375.9 96.0,376.6 96.5,377.1 97.0,377.3 97.5,377.6 98.0,377.8 98.5,378.1 99.0,378.3 99.5,378.7 100.0,379.4 100.5,380.4 101.0,381.4 101.5,382.4 102.0,383.4 102.5,384.4 103.0,385.2 103.5,385.6 104.0,385.3 104.5,384.8 105.0,384.3 105.5,383.8 106.0,383.3 106.5,382.8 107.0,382.8 107.5,383.9 108.0,385.5 108.5,387.1 109.0,388.7 109.5,390.3 110.0,391.9 110.5,393.1 111.0,393.0 111.5,391.8 112.0,390.2 112.5,388.7 113.0,387.2 113.5,385.6 114.0,384.4 114.5,384.0 115.0,384.6 115.5,385.5 116.0,386.5 116.5,387.5 117.0,388.4 117.5,388.9 118.0,388.2 118.5,386.8 119.0,385.2 119.5,383.6 120.0,382.0 120.5,380.6 121.0,379.6 121.5,379.1 122.0,378.8 122.5,378.5 123.0,378.2 123.5,377.9 124.0,377.6 124.5,377.3 125.0,377.0 125.5,376.5 126.0,375.8 126.5,374.8 127.0,373.6 127.5,372.8 128.0,371.9 128.5,371.1 129.0,370.8 129.5,370.3 130.0,369.9 130.5,369.3 131.0,368.7 131.5,368.5 132.0,367.9 132.5,367.0 133.0,366.0 133.5,365.1 134.0,364.4 134.5,363.7 135.0,363.3 135.5,363.0 136.0,363.0 136.5,363.7 137.0,364.3 137.5,364.2 138.0,364.1 138.5,364.1 139.0,364.3 139.5,364.3 140.0,364.3 140.5,363.9 141.0,363.6 141.5,363.5 142.0,363.4 142.5,363.1 143.0,363.0 143.5,363.0 144.0,363.0 144.5,363.3 145.0,363.5 145.5,363.5 146.0,363.6 146.5,363.4 147.0,363.1 147.5,362.8 148.0,362.2 148.5,361.8 149.0,361.6 149.5,361.5 150.0,361.7 150.5,361.8 151.0,361.8 151.5,362.0 152.0,362.4 152.5,363.0 153.0,363.3 153.5,363.2 154.0,363.2 154.5,363.2 155.0,362.9 155.5,362.7 156.0,362.8 156.5,362.8 157.0,362.4 157.5,362.2 158.0,362.3 158.5,362.2 159.0,362.1 159.5,362.2 160.0,362.4 160.5,362.4 161.0,362.1 161.5,361.9 162.0,361.4 162.5,360.8 163.0,360.2 163.5,359.8 164.0,359.5 164.5,359.4 165.0,359.4 165.5,359.4 166.0,359.4 166.5,359.6 167.0,359.5 167.5,359.2 168.0,358.7 168.5,358.6 169.0,358.8 169.5,358.8 170.0,358.6 170.5,358.3 171.0,358.0 171.5,357.9 172.0,357.8 172.5,357.9 173.0,358.1 173.5,358.2 174.0,358.3 174.5,358.6 175.0,358.7 175.5,358.7 176.0,358.7 176.5,358.5 177.0,358.4 177.5,358.3 178.0,357.9 178.5,357.5 179.0,357.4 179.5,357.6 180.0,357.9 180.5,358.1 181.0,358.2 181.5,358.1 182.0,358.4 182.5,358.6 183.0,358.3 183.5,357.9 184.0,357.6 184.5,357.2 185.0,357.0 185.5,357.0 186.0,356.9 186.5,356.8 187.0,356.8 187.5,356.9 188.0,357.0 188.5,357.4 189.0,357.5 189.5,357.4 190.0,357.3 190.5,357.2 191.0,357.1 191.5,356.9 192.0,356.6 192.5,356.2 193.0,356.0 193.5,356.1 194.0,356.1 194.5,356.2 195.0,356.3 195.5,356.3 196.0,356.4 196.5,356.5 197.0,356.5 197.5,356.5 198.0,356.7 198.5,356.5 199.0,356.2 199.5,356.2 200.0,355.9 200.5,355.5 201.0,355.5 201.5,355.4 202.0,355.5 202.5,355.8 203.0,356.0 203.5,356.1 204.0,356.3 204.5,356.2 205.0,356.1 205.5,356.2 206.0,356.0 206.5,355.8 207.0,355.8 207.5,355.9 208.0,355.6 208.5,355.2 209.0,355.4 209.5,355.6 210.0,355.5 210.5,355.5 211.0,355.9 211.5,356.2 212.0,356.3 212.5,356.3 213.0,356.2 213.5,356.1 214.0,355.7 214.5,355.4 215.0,355.1 215.5,355.1 216.0,355.3 216.5,355.1 217.0,354.9 217.5,355.1 218.0,355.4 218.5,355.6 219.0,356.2 219.5,356.5 220.0,356.2 220.5,355.9 221.0,355.7 221.5,355.3 222.0,355.3 222.5,355.1 223.0,354.9 223.5,354.9 224.0,354.7 224.5,354.7 225.0,355.4 225.5,355.9 226.0,355.8 226.5,355.5 227.0,355.6 227.5,355.5 228.0,355.3 228.5,355.0 229.0,354.8 229.5,354.8 230.0,354.6 230.5,354.6 231.0,354.8 231.5,354.9 232.0,355.1 232.5,355.4 233.0,355.6 233.5,355.9 234.0,355.9 234.5,355.8 235.0,355.5 235.5,355.4 236.0,355.2 236.5,354.6 237.0,354.5 237.5,354.7 238.0,354.7 238.5,354.8 239.0,354.9 239.5,355.1 240.0,355.4 240.5,355.7 241.0,356.1 241.5,356.1 242.0,355.7 242.5,355.4 243.0,355.1 243.5,354.8 244.0,354.7 244.5,354.7 245.0,354.8 245.5,354.8 246.0,354.9 246.5,355.3 247.0,355.5 247.5,355.5 248.0,355.5 248.5,355.8 249.0,356.0 249.5,355.8 250.0,355.4 250.5,355.1 251.0,354.9 251.5,354.9 252.0,354.5 252.5,354.4 253.0,354.8 253.5,355.0 254.0,355.0 254.5,355.2 255.0,355.3 255.5,355.4 256.0,355.5 256.5,355.7 257.0,355.5 257.5,355.1 258.0,355.0 258.5,354.9 259.0,354.7 259.5,354.6 260.0,354.9 260.5,355.0 261.0,355.2 261.5,355.7 262.0,355.8 262.5,355.6 263.0,355.7 263.5,355.8 264.0,355.4 264.5,355.0 265.0,355.0 265.5,355.0 266.0,354.6 266.5,354.4 267.0,354.5 267.5,354.7 268.0,354.8 268.5,354.9 269.0,354.9 269.5,355.1 270.0,355.6 270.5,355.7 271.0,355.5 271.5,355.5 272.0,355.4 272.5,355.1 273.0,354.8 273.5,354.4 274.0,354.1 274.5,354.2 275.0,354.4 275.5,354.7 276.0,355.0 276.5,354.9 277.0,355.1 277.5,355.4 278.0,355.4 278.5,355.0 279.0,354.8 279.5,354.9 280.0,354.8 280.5,354.6 281.0,354.7 281.5,354.5 282.0,354.3 282.5,354.3 283.0,354.6 283.5,354.9 284.0,354.9 284.5,355.2 285.0,355.6 285.5,355.3 286.0,355.0 286.5,355.1 287.0,355.0 287.5,354.5 288.0,354.2 288.5,354.1 289.0,353.9 289.5,353.7" fill="none" stroke="#0a0a0a" stroke-width="2.3" stroke-linejoin="round" stroke-linecap="round"/>
<polyline points="54.5,388.2 55.0,388.2 55.5,388.3 56.0,388.3 56.5,388.3 57.0,388.3 57.5,388.4 58.0,388.4 58.5,388.4 59.0,388.5 59.5,388.5 60.0,388.5 60.5,388.6 61.0,388.6 61.5,388.6 62.0,388.6 62.5,388.7 63.0,388.9 63.5,389.4 64.0,389.9 64.5,390.5 65.0,391.1 65.5,391.6 66.0,391.9 66.5,391.6 67.0,390.6 67.5,389.5 68.0,388.4 68.5,387.2 69.0,386.1 69.5,385.1 70.0,384.8 70.5,385.6 71.0,386.9 71.5,388.1 72.0,389.4 72.5,390.7 73.0,391.9 73.5,393.1 74.0,393.5 74.5,392.9 75.0,391.8 75.5,390.7 76.0,389.6 76.5,388.5 77.0,387.4 77.5,386.3 78.0,385.2 78.5,384.7 79.0,385.6 79.5,387.1 80.0,388.6 80.5,390.1 81.0,391.6 81.5,393.1 82.0,394.6 82.5,396.1 83.0,397.2 83.5,397.4 84.0,397.0 84.5,396.5 85.0,396.0 85.5,395.5 86.0,395.0 86.5,394.6 87.0,394.7 87.5,395.3 88.0,396.1 88.5,396.9 89.0,397.7 89.5,398.5 90.0,399.3 90.5,400.2 91.0,400.9 91.5,401.5 92.0,401.7 92.5,401.8 93.0,401.9 93.5,402.0 94.0,402.1 94.5,402.2 95.0,402.3 95.5,402.4 96.0,402.7 96.5,403.3 97.0,404.0 97.5,404.8 98.0,405.6 98.5,406.3 99.0,407.1 99.5,407.6 100.0,407.7 100.5,407.3 101.0,407.0 101.5,406.6 102.0,406.2 102.5,405.9 103.0,405.6 103.5,405.7 104.0,406.2 104.5,406.9 105.0,407.6 105.5,408.2 106.0,408.6 106.5,408.4 107.0,407.9 107.5,407.4 108.0,406.9 108.5,406.5 109.0,406.0 109.5,405.5 110.0,405.0 110.5,404.6 111.0,404.6 111.5,404.9 112.0,405.3 112.5,405.7 113.0,406.1 113.5,406.5 114.0,406.8 114.5,406.9 115.0,406.8 115.5,406.5 116.0,406.2 116.5,406.0 117.0,405.8 117.5,405.5 118.0,405.2 118.5,405.0 119.0,404.8 119.5,404.5 120.0,404.2 120.5,404.0 121.0,403.8 121.5,403.5 122.0,403.2 122.5,403.0 123.0,402.8 123.5,402.5 124.0,402.4 124.5,402.3 125.0,402.2 125.5,402.0 126.0,402.2 126.5,402.4 127.0,402.6 127.5,402.6 128.0,402.2 128.5,401.9 129.0,401.7 129.5,401.4 130.0,401.1 130.5,400.8 131.0,400.4 131.5,400.2 132.0,400.1 132.5,400.4 133.0,400.8 133.5,400.8 134.0,400.8 134.5,400.7 135.0,400.6 135.5,400.6 136.0,400.4 136.5,400.0 137.0,399.8 137.5,399.6 138.0,399.6 138.5,399.6 139.0,399.6 139.5,399.7 140.0,399.8 140.5,399.9 141.0,400.1 141.5,400.3 142.0,400.3 142.5,400.2 143.0,400.1 143.5,399.8 144.0,399.4 144.5,398.9 145.0,398.8 145.5,398.8 146.0,398.4 146.5,398.2 147.0,398.5 147.5,398.7 148.0,398.8 148.5,398.9 149.0,398.9 149.5,398.9 150.0,398.8 150.5,398.7 151.0,398.7 151.5,398.5 152.0,398.0 152.5,397.4 153.0,397.2 153.5,397.4 154.0,397.5 154.5,397.4 155.0,397.6 155.5,397.9 156.0,397.8 156.5,397.9 157.0,397.8 157.5,397.6 158.0,397.4 158.5,397.0 159.0,396.8 159.5,396.6 160.0,396.6 160.5,396.7 161.0,396.7 161.5,396.7 162.0,396.9 162.5,397.4 163.0,398.0 163.5,398.3 164.0,398.2 164.5,398.0 165.0,397.8 165.5,397.9 166.0,398.1 166.5,398.1 167.0,398.1 167.5,397.9 168.0,397.8 168.5,397.9 169.0,398.0 169.5,398.6 170.0,398.8 170.5,398.6 171.0,398.4 171.5,398.2 172.0,397.8 172.5,397.3 173.0,396.7 173.5,396.2 174.0,395.4 174.5,394.7 175.0,394.5 175.5,394.2 176.0,394.1 176.5,394.5 177.0,394.8 177.5,394.8 178.0,394.6 178.5,394.7 179.0,394.6 179.5,394.5 180.0,394.4 180.5,394.2 181.0,394.0 181.5,393.7 182.0,393.3 182.5,393.2 183.0,393.5 183.5,393.8 184.0,393.9 184.5,393.9 185.0,393.9 185.5,393.8 186.0,393.7 186.5,393.6 187.0,393.5 187.5,393.2 188.0,393.0 188.5,392.8 189.0,392.6 189.5,392.6 190.0,392.5 190.5,392.4 191.0,392.3 191.5,392.3 192.0,392.7 192.5,393.1 193.0,393.0 193.5,392.7 194.0,392.5 194.5,392.1 195.0,391.9 195.5,391.8 196.0,391.5 196.5,391.2 197.0,391.3 197.5,391.4 198.0,391.7 198.5,391.9 199.0,392.0 199.5,392.0 200.0,392.1 200.5,392.3 201.0,392.4 201.5,392.3 202.0,392.2 202.5,391.9 203.0,391.8 203.5,391.9 204.0,391.6 204.5,391.5 205.0,391.8 205.5,392.1 206.0,392.6 206.5,392.6 207.0,392.3 207.5,392.4 208.0,392.8 208.5,392.8 209.0,392.8 209.5,392.6 210.0,392.0 210.5,391.7 211.0,391.4 211.5,391.4 212.0,391.7 212.5,391.9 213.0,391.9 213.5,391.8 214.0,391.9 214.5,392.1 215.0,392.4 215.5,392.2 216.0,391.8 216.5,391.7 217.0,391.7 217.5,391.4 218.0,391.0 218.5,390.5 219.0,390.3 219.5,390.4 220.0,390.3 220.5,390.1 221.0,390.1 221.5,390.5 222.0,390.8 222.5,390.9 223.0,390.5 223.5,390.1 224.0,389.9 224.5,389.5 225.0,388.8 225.5,388.3 226.0,388.2 226.5,388.2 227.0,388.0 227.5,388.1 228.0,388.6 228.5,388.8 229.0,388.7 229.5,388.7 230.0,388.6 230.5,388.4 231.0,387.9 231.5,387.7 232.0,387.7 232.5,387.5 233.0,387.2 233.5,387.1 234.0,387.1 234.5,387.4 235.0,387.8 235.5,388.2 236.0,388.3 236.5,388.3 237.0,388.3 237.5,388.6 238.0,388.3 238.5,387.8 239.0,387.7 239.5,387.7 240.0,387.2 240.5,386.9 241.0,387.1 241.5,387.4 242.0,387.5 242.5,387.9 243.0,388.0 243.5,388.1 244.0,388.1 244.5,388.2 245.0,388.2 245.5,388.0 246.0,387.5 246.5,387.2 247.0,387.2 247.5,387.1 248.0,387.0 248.5,387.1 249.0,387.2 249.5,387.2 250.0,387.4 250.5,387.8 251.0,387.9 251.5,387.6 252.0,387.5 252.5,387.5 253.0,387.6 253.5,387.5 254.0,387.1 254.5,387.0 255.0,387.1 255.5,387.1 256.0,387.0 256.5,387.2 257.0,387.5 257.5,387.5 258.0,387.8 258.5,388.2 259.0,388.2 259.5,388.0 260.0,387.8 260.5,387.6 261.0,387.5 261.5,387.3 262.0,387.1 262.5,386.9 263.0,387.1 263.5,387.4 264.0,387.4 264.5,387.7 265.0,388.2 265.5,388.4 266.0,388.5 266.5,388.4 267.0,388.1 267.5,388.0 268.0,387.7 268.5,387.2 269.0,387.2 269.5,387.6 270.0,387.6 270.5,387.4 271.0,387.5 271.5,387.7 272.0,387.9 272.5,388.1 273.0,388.2 273.5,388.6 274.0,388.9 274.5,388.7 275.0,388.3 275.5,388.1 276.0,388.0 276.5,388.0 277.0,387.9 277.5,387.9 278.0,387.9 278.5,388.0 279.0,388.2 279.5,388.4 280.0,388.6 280.5,388.9 281.0,389.0 281.5,389.0 282.0,388.7 282.5,388.4 283.0,388.2 283.5,388.1 284.0,388.1 284.5,387.9 285.0,387.8 285.5,388.1 286.0,388.6 286.5,389.0 287.0,388.8 287.5,388.6 288.0,388.8 288.5,388.9 289.0,388.7 289.5,388.2" fill="none" stroke="#0a0a8c" stroke-width="2.3" stroke-linejoin="round" stroke-linecap="round"/>
<polyline points="54.5,415.4 55.0,415.5 55.5,415.5 56.0,415.6 56.5,415.6 57.0,415.7 57.5,415.7 58.0,415.8 58.5,415.8 59.0,415.9 59.5,415.9 60.0,416.0 60.5,416.0 61.0,416.1 61.5,416.2 62.0,416.2 62.5,416.3 63.0,416.4 63.5,416.6 64.0,416.9 64.5,417.2 65.0,417.4 65.5,417.7 66.0,417.8 66.5,417.4 67.0,416.6 67.5,415.7 68.0,414.8 68.5,413.9 69.0,413.0 69.5,412.1 70.0,411.5 70.5,411.8 71.0,413.0 71.5,414.3 72.0,415.7 72.5,417.1 73.0,418.4 73.5,419.7 74.0,420.2 74.5,419.6 75.0,418.5 75.5,417.4 76.0,416.3 76.5,415.2 77.0,414.1 77.5,413.0 78.0,411.9 78.5,411.4 79.0,412.1 79.5,413.4 80.0,414.7 80.5,416.0 81.0,417.3 81.5,418.6 82.0,419.9 82.5,421.1 83.0,422.1 83.5,422.5 84.0,422.3 84.5,422.2 85.0,422.0 85.5,421.8 86.0,421.6 86.5,421.4 87.0,421.2 87.5,421.2 88.0,421.8 88.5,422.9 89.0,424.1 89.5,425.3 90.0,426.6 90.5,427.8 91.0,429.0 91.5,429.8 92.0,430.1 92.5,430.1 93.0,430.2 93.5,430.2 94.0,430.3 94.5,430.3 95.0,430.4 95.5,430.4 96.0,430.6 96.5,430.8 97.0,431.1 97.5,431.4 98.0,431.8 98.5,432.1 99.0,432.4 99.5,432.7 100.0,432.8 100.5,432.7 101.0,432.4 101.5,432.1 102.0,431.8 102.5,431.4 103.0,431.1 103.5,430.8 104.0,430.7 104.5,430.8 105.0,431.1 105.5,431.4 106.0,431.8 106.5,432.1 107.0,432.4 107.5,432.7 108.0,432.8 108.5,432.6 109.0,432.1 109.5,431.7 110.0,431.2 110.5,430.8 111.0,430.4 111.5,429.9 112.0,429.5 112.5,429.2 113.0,428.8 113.5,428.5 114.0,428.2 114.5,427.8 115.0,427.5 115.5,427.2 116.0,426.8 116.5,426.5 117.0,426.2 117.5,425.8 118.0,425.5 118.5,425.1 119.0,424.8 119.5,424.4 120.0,424.1 120.5,423.7 121.0,423.4 121.5,423.0 122.0,422.7 122.5,422.3 123.0,422.0 123.5,421.6 124.0,421.3 124.5,420.9 125.0,420.5 125.5,420.2 126.0,419.6 126.5,419.1 127.0,419.0 127.5,419.1 128.0,419.0 128.5,418.7 129.0,418.5 129.5,418.4 130.0,418.2 130.5,417.9 131.0,417.6 131.5,417.2 132.0,416.7 132.5,416.5 133.0,416.5 133.5,416.3 134.0,416.3 134.5,416.3 135.0,416.4 135.5,416.2 136.0,415.8 136.5,415.7 137.0,415.7 137.5,415.5 138.0,415.2 138.5,414.7 139.0,414.2 139.5,413.8 140.0,413.6 140.5,413.4 141.0,413.4 141.5,413.5 142.0,413.7 142.5,413.7 143.0,413.6 143.5,413.4 144.0,413.1 144.5,412.7 145.0,412.4 145.5,412.2 146.0,412.0 146.5,411.4 147.0,410.9 147.5,410.8 148.0,410.7 148.5,410.7 149.0,410.9 149.5,411.0 150.0,411.1 150.5,411.5 151.0,411.6 151.5,411.4 152.0,411.4 152.5,411.4 153.0,411.0 153.5,410.6 154.0,410.5 154.5,410.5 155.0,410.3 155.5,410.2 156.0,410.4 156.5,410.7 157.0,410.8 157.5,411.0 158.0,411.3 158.5,411.4 159.0,411.4 159.5,411.1 160.0,411.2 160.5,411.4 161.0,411.1 161.5,411.0 162.0,411.2 162.5,411.3 163.0,411.3 163.5,411.5 164.0,411.9 164.5,412.3 165.0,412.8 165.5,413.1 166.0,413.0 166.5,412.7 167.0,412.7 167.5,413.1 168.0,413.1 168.5,413.0 169.0,413.0 169.5,413.1 170.0,413.0 170.5,413.0 171.0,413.2 171.5,413.3 172.0,413.0 172.5,412.8 173.0,412.8 173.5,412.7 174.0,412.6 174.5,412.6 175.0,412.3 175.5,411.9 176.0,411.5 176.5,411.2 177.0,411.1 177.5,411.2 178.0,411.4 178.5,411.4 179.0,411.6 179.5,411.7 180.0,411.7 180.5,411.7 181.0,411.6 181.5,411.3 182.0,410.8 182.5,410.1 183.0,409.6 183.5,409.6 184.0,409.8 184.5,410.0 185.0,410.4 185.5,410.7 186.0,411.0 186.5,411.2 187.0,411.4 187.5,411.7 188.0,411.7 188.5,411.7 189.0,411.7 189.5,411.4 190.0,411.1 190.5,411.2 191.0,411.4 191.5,411.5 192.0,411.6 192.5,411.9 193.0,412.3 193.5,412.7 194.0,413.0 194.5,413.3 195.0,413.2 195.5,412.9 196.0,412.8 196.5,412.9 197.0,412.7 197.5,412.5 198.0,412.6 198.5,412.7 199.0,412.7 199.5,412.8 200.0,413.1 200.5,413.6 201.0,414.1 201.5,414.4 202.0,414.6 202.5,414.8 203.0,415.0 203.5,414.9 204.0,414.6 204.5,414.5 205.0,414.3 205.5,414.0 206.0,414.0 206.5,414.3 207.0,414.7 207.5,415.1 208.0,415.6 208.5,415.9 209.0,415.7 209.5,415.8 210.0,416.1 210.5,416.1 211.0,416.0 211.5,416.0 212.0,416.0 212.5,415.9 213.0,415.8 213.5,415.8 214.0,416.0 214.5,416.1 215.0,416.2 215.5,416.2 216.0,416.4 216.5,416.5 217.0,416.7 217.5,416.7 218.0,416.2 218.5,415.8 219.0,415.6 219.5,415.3 220.0,415.0 220.5,414.9 221.0,414.9 221.5,415.1 222.0,415.1 222.5,415.0 223.0,415.1 223.5,415.2 224.0,415.3 224.5,415.4 225.0,415.2 225.5,414.9 226.0,414.6 226.5,414.3 227.0,414.1 227.5,414.0 228.0,414.1 228.5,414.2 229.0,414.1 229.5,414.2 230.0,414.4 230.5,414.6 231.0,415.0 231.5,415.2 232.0,415.2 232.5,415.5 233.0,415.4 233.5,415.1 234.0,414.9 234.5,414.8 235.0,414.8 235.5,415.1 236.0,415.3 236.5,415.4 237.0,415.4 237.5,415.7 238.0,416.2 238.5,416.5 239.0,416.4 239.5,416.3 240.0,416.2 240.5,416.3 241.0,416.3 241.5,416.4 242.0,416.4 242.5,416.4 243.0,416.3 243.5,416.2 244.0,416.6 244.5,417.0 245.0,417.1 245.5,417.1 246.0,417.2 246.5,416.9 247.0,416.6 247.5,416.3 248.0,416.1 248.5,415.5 249.0,415.2 249.5,415.2 250.0,415.1 250.5,415.1 251.0,415.1 251.5,415.2 252.0,415.3 252.5,415.2 253.0,415.1 253.5,415.2 254.0,415.2 254.5,414.8 255.0,414.3 255.5,414.0 256.0,413.6 256.5,413.4 257.0,413.3 257.5,413.2 258.0,413.1 258.5,413.1 259.0,413.1 259.5,413.3 260.0,413.3 260.5,413.1 261.0,412.9 261.5,412.9 262.0,413.0 262.5,413.1 263.0,413.0 263.5,412.7 264.0,412.5 264.5,412.4 265.0,412.6 265.5,412.7 266.0,413.0 266.5,413.4 267.0,413.6 267.5,413.5 268.0,413.7 268.5,413.8 269.0,413.6 269.5,413.5 270.0,413.4 270.5,413.1 271.0,412.8 271.5,412.7 272.0,412.8 272.5,412.9 273.0,413.3 273.5,413.8 274.0,414.1 274.5,414.2 275.0,414.1 275.5,413.8 276.0,413.7 276.5,413.8 277.0,413.8 277.5,413.8 278.0,413.6 278.5,413.5 279.0,413.4 279.5,413.4 280.0,413.6 280.5,413.7 281.0,414.0 281.5,414.4 282.0,414.6 282.5,414.6 283.0,414.4 283.5,414.1 284.0,413.8 284.5,413.8 285.0,413.9 285.5,413.9 286.0,413.9 286.5,413.9 287.0,413.8 287.5,413.8 288.0,414.1 288.5,414.4 289.0,414.9 289.5,415.2" fill="none" stroke="#5b8ff5" stroke-width="2.3" stroke-linejoin="round" stroke-linecap="round"/>
<text x="286.4" y="315.2" font-size="11" text-anchor="end" fill="#231f20">315 K</text>
<text x="261.8" y="340.6" font-size="11" fill="#231f20" textLength="24.6" lengthAdjust="spacingAndGlyphs">311 K</text>
<text x="224.6" y="372.6" font-size="11" fill="#231f20" textLength="24" lengthAdjust="spacingAndGlyphs">311 K</text>
<text x="252.8" y="372.6" font-size="11" fill="#231f20">(−</text>
<text x="262.2" y="372.6" font-size="11" font-style="italic" fill="#231f20">B</text>
<text x="269.8" y="366.6" font-size="7.3" fill="#231f20">NF</text>
<text x="269.8" y="376.2" font-size="7.3" fill="#231f20">THz</text>
<text x="283.2" y="372.6" font-size="11" fill="#231f20">)</text>
<text x="286.4" y="401.7" font-size="11" text-anchor="end" fill="#231f20">310 K</text>
<text x="286.4" y="428.7" font-size="11" text-anchor="end" fill="#231f20">307 K</text>
<polygon points="413.5,297.2 414.6,296.2 416.2,294.7 418.0,293.1 419.4,291.3 420.4,289.4 421.3,287.3 422.0,285.2 422.7,283.4 423.2,281.9 423.7,280.6 424.1,279.6 424.7,278.8 425.6,278.4 426.6,278.2 427.6,278.2 428.6,278.1 429.5,277.9 430.4,277.7 431.2,277.3 431.9,276.8 432.5,276.1 433.0,275.3 433.5,274.2 433.9,272.9 434.3,271.6 434.6,270.3 434.9,268.3 435.2,265.0 435.5,259.6 435.8,252.6 436.2,245.6 436.5,240.0 436.8,236.1 437.2,233.2 437.6,231.3 438.0,230.5 438.5,230.7 438.9,232.0 439.5,234.4 440.0,238.0 440.6,243.8 441.2,251.3 441.8,259.0 442.4,265.0 442.9,268.8 443.4,271.4 443.9,273.4 444.4,275.5 445.0,278.0 445.6,280.3 446.2,282.6 447.0,284.7 447.9,286.6 449.0,288.4 450.1,289.9 451.0,291.3 451.7,292.4 452.2,293.2 452.8,294.0 453.6,294.6 454.7,295.2 456.0,295.8 457.4,296.2 458.8,296.5 460.1,296.6 461.5,296.5 462.8,296.3 464.0,296.0 465.1,295.6 466.1,295.0 467.1,294.5 468.0,294.2 468.8,294.1 469.5,294.1 470.3,294.3 471.0,294.6 471.9,295.2 472.8,295.9 473.7,296.7 474.3,297.2" fill="#b4c2f4"/>
<rect x="367.5" y="212.5" width="121.0" height="87.5" fill="none" stroke="#6b6b6b" stroke-width="1"/>
<line x1="367.5" y1="229.5" x2="370.5" y2="229.5" stroke="#6b6b6b" stroke-width="1"/>
<line x1="367.5" y1="263.2" x2="370.5" y2="263.2" stroke="#6b6b6b" stroke-width="1"/>
<line x1="367.5" y1="297.2" x2="370.5" y2="297.2" stroke="#6b6b6b" stroke-width="1"/>
<line x1="382.7" y1="300" x2="382.7" y2="297.2" stroke="#6b6b6b" stroke-width="1"/>
<line x1="397.9" y1="300" x2="397.9" y2="297.2" stroke="#6b6b6b" stroke-width="1"/>
<line x1="413.1" y1="300" x2="413.1" y2="297.2" stroke="#6b6b6b" stroke-width="1"/>
<line x1="428.3" y1="300" x2="428.3" y2="297.2" stroke="#6b6b6b" stroke-width="1"/>
<line x1="443.5" y1="300" x2="443.5" y2="295.5" stroke="#6b6b6b" stroke-width="1"/>
<line x1="458.7" y1="300" x2="458.7" y2="297.2" stroke="#6b6b6b" stroke-width="1"/>
<line x1="473.9" y1="300" x2="473.9" y2="297.2" stroke="#6b6b6b" stroke-width="1"/>
<line x1="489.1" y1="300" x2="489.1" y2="297.2" stroke="#6b6b6b" stroke-width="1"/>
<text x="363.5" y="233" font-size="10" text-anchor="end" fill="#231f20">1</text>
<text x="362.5" y="300.7" font-size="10" text-anchor="end" fill="#231f20">0</text>
<text x="367.8" y="311" font-size="10" text-anchor="middle" fill="#231f20">0</text>
<text x="443.5" y="311" font-size="10" text-anchor="middle" fill="#231f20">0.5</text>
<text x="428.2" y="325.8" font-size="11.5" text-anchor="middle" fill="#231f20">Frequency (THz)</text>
<text x="335.3" y="256.7" font-size="11.5" text-anchor="middle" fill="#231f20" transform="rotate(-90 335.3 256.7)">Normalized</text>
<text x="347.6" y="256.7" font-size="11.5" text-anchor="middle" fill="#231f20" transform="rotate(-90 347.6 256.7)">amplitude</text>
<polyline points="367.9,277.4 369.2,255.0 371.2,253.0 373.3,251.0 375.3,229.9 377.3,239.7 379.4,264.2 380.0,275.5 381.3,284.7 382.6,289.3 383.3,286.0 384.6,293.9 386.6,295.9 389.2,291.9 390.5,294.6 392.5,296.5 394.5,295.5 397.1,296.5 403.7,296.5 412.9,296.1 419.4,294.2 423.4,293.3 426.0,294.2 429.9,293.3 433.9,291.9 437.2,290.4 438.5,291.3 440.4,292.9 443.1,291.9 446.4,286.0 449.6,278.8 451.0,284.7 452.3,295.9 454.9,293.3 457.5,294.6 459.5,296.5 461.5,295.9 466.7,296.5 470.0,296.9 488.3,296.6" fill="none" stroke="#f09a10" stroke-width="2.0" stroke-linejoin="round" stroke-linecap="round"/>
<line x1="374.7" y1="215.8" x2="374.70" y2="223.00" stroke="#ee1c25" stroke-width="1.2"/>
<polygon points="374.70,226.60 372.90,222.10 376.50,222.10" fill="#ee1c25"/>
<text x="379.8" y="224.8" font-size="11" fill="#231f20">q-FM</text>
<text x="478.4" y="226.4" font-size="11" text-anchor="end" fill="#231f20">315 K</text>
<text x="402.3" y="243.8" font-size="11.2" font-style="italic" fill="#231f20">B</text>
<text x="410" y="237.7" font-size="7" fill="#231f20">NF</text>
<text x="410" y="246.8" font-size="7" fill="#231f20">THz</text>
<line x1="421.5" y1="240.1" x2="431.90" y2="240.10" stroke="#56637a" stroke-width="1.1"/>
<polygon points="435.50,240.10 431.00,241.90 431.00,238.30" fill="#56637a"/>
<text x="443.4" y="256" font-size="11" fill="#231f20">q-AFM</text>
<line x1="449.8" y1="258.5" x2="449.80" y2="272.00" stroke="#1a3ff0" stroke-width="1.2"/>
<polygon points="449.80,275.60 447.90,271.10 451.70,271.10" fill="#1a3ff0"/>
<line x1="437.6" y1="274.4" x2="437.6" y2="285" stroke="#22c0a0" stroke-width="1.2" stroke-dasharray="1.4 1.2"/>
<polygon points="437.60,288.80 435.80,284.80 439.40,284.80" fill="#22c0a0"/>
<line x1="398.8" y1="276.4" x2="387.10" y2="276.40" stroke="#56637a" stroke-width="1.1"/>
<polygon points="383.50,276.40 388.00,274.60 388.00,278.20" fill="#56637a"/>
<text x="399.8" y="279.5" font-size="11.5" fill="#231f20">Δ<tspan font-style="italic">η</tspan></text>
<line x1="561.5" y1="212.5" x2="681.5" y2="212.5" stroke="#6b6b6b" stroke-width="1"/>
<line x1="561.5" y1="300.5" x2="681.5" y2="300.5" stroke="#6b6b6b" stroke-width="1"/>
<line x1="561.5" y1="212.5" x2="561.5" y2="229.4" stroke="#6b6b6b" stroke-width="1"/>
<line x1="561.5" y1="234.3" x2="561.5" y2="300.5" stroke="#6b6b6b" stroke-width="1"/>
<line x1="681.5" y1="212.5" x2="681.5" y2="229.4" stroke="#6b6b6b" stroke-width="1"/>
<line x1="681.5" y1="234.3" x2="681.5" y2="300.5" stroke="#6b6b6b" stroke-width="1"/>
<line x1="558.2" y1="230.2" x2="564.8" y2="228.4" stroke="#6b6b6b" stroke-width="1"/>
<line x1="558.2" y1="234.6" x2="564.8" y2="233.6" stroke="#6b6b6b" stroke-width="1"/>
<line x1="678.2" y1="230.2" x2="684.8" y2="228.4" stroke="#6b6b6b" stroke-width="1"/>
<line x1="678.2" y1="234.6" x2="684.8" y2="233.6" stroke="#6b6b6b" stroke-width="1"/>
<line x1="566.6600000000001" y1="300.5" x2="566.6600000000001" y2="297.5" stroke="#6b6b6b" stroke-width="1"/>
<line x1="576.9200000000001" y1="300.5" x2="576.9200000000001" y2="297.5" stroke="#6b6b6b" stroke-width="1"/>
<line x1="587.1800000000001" y1="300.5" x2="587.1800000000001" y2="297.5" stroke="#6b6b6b" stroke-width="1"/>
<line x1="597.44" y1="300.5" x2="597.44" y2="297.5" stroke="#6b6b6b" stroke-width="1"/>
<line x1="607.7" y1="300.5" x2="607.7" y2="295.0" stroke="#6b6b6b" stroke-width="1"/>
<line x1="617.96" y1="300.5" x2="617.96" y2="297.5" stroke="#6b6b6b" stroke-width="1"/>
<line x1="628.22" y1="300.5" x2="628.22" y2="297.5" stroke="#6b6b6b" stroke-width="1"/>
<line x1="638.48" y1="300.5" x2="638.48" y2="297.5" stroke="#6b6b6b" stroke-width="1"/>
<line x1="648.74" y1="300.5" x2="648.74" y2="297.5" stroke="#6b6b6b" stroke-width="1"/>
<line x1="659.0" y1="300.5" x2="659.0" y2="295.0" stroke="#6b6b6b" stroke-width="1"/>
<line x1="669.26" y1="300.5" x2="669.26" y2="297.5" stroke="#6b6b6b" stroke-width="1"/>
<line x1="679.52" y1="300.5" x2="679.52" y2="297.5" stroke="#6b6b6b" stroke-width="1"/>
<line x1="561.5" y1="218.2" x2="567.5" y2="218.2" stroke="#6b6b6b" stroke-width="1"/>
<line x1="561.5" y1="291.7" x2="567.5" y2="291.7" stroke="#6b6b6b" stroke-width="1"/>
<line x1="561.5" y1="282.68" x2="565.0" y2="282.68" stroke="#6b6b6b" stroke-width="1"/>
<line x1="561.5" y1="273.65999999999997" x2="565.0" y2="273.65999999999997" stroke="#6b6b6b" stroke-width="1"/>
<line x1="561.5" y1="264.64" x2="565.0" y2="264.64" stroke="#6b6b6b" stroke-width="1"/>
<line x1="561.5" y1="255.62" x2="565.0" y2="255.62" stroke="#6b6b6b" stroke-width="1"/>
<line x1="561.5" y1="246.6" x2="567.5" y2="246.6" stroke="#6b6b6b" stroke-width="1"/>
<line x1="561.5" y1="237.57999999999998" x2="565.0" y2="237.57999999999998" stroke="#6b6b6b" stroke-width="1"/>
<text x="555.8" y="221.6" font-size="10" text-anchor="end" fill="#231f20">55</text>
<text x="555.8" y="250" font-size="10" text-anchor="end" fill="#231f20">5</text>
<text x="555.8" y="295.6" font-size="10" text-anchor="end" fill="#231f20">0</text>
<text x="607.7" y="313.2" font-size="10" text-anchor="middle" fill="#231f20">310</text>
<text x="659" y="313.2" font-size="10" text-anchor="middle" fill="#231f20">320</text>
<text x="620.7" y="325.8" font-size="11.5" text-anchor="middle" fill="#231f20">Temperature (K)</text>
<text x="0" y="0" font-size="11" fill="#231f20" transform="translate(536.4,255.5) rotate(-90)" text-anchor="middle"><tspan font-style="italic">ω</tspan>/2π (×10<tspan font-size="7.8" dy="-4.6">−2</tspan><tspan dy="4.6"> THz)</tspan></text>
<polyline points="561.8,247.9 562.6,248.4 563.3,248.9 564.1,249.3 564.9,249.8 565.7,250.3 566.5,250.8 567.2,251.3 568.0,251.8 568.8,252.3 569.6,252.7 570.3,253.2 571.1,253.8 571.9,254.3 572.7,254.8 573.5,255.3 574.2,255.8 575.0,256.3 575.8,256.8 576.6,257.4 577.4,257.9 578.1,258.4 578.9,259.0 579.7,259.5 580.5,260.1 581.2,260.6 582.0,261.2 582.8,261.7 583.6,262.3 584.4,262.9 585.1,263.5 585.9,264.1 586.7,264.6 587.5,265.2 588.2,265.9 589.0,266.5 589.8,267.1 590.6,267.7 591.4,268.4 592.1,269.0 592.9,269.7 593.7,270.3 594.5,271.0 595.2,271.7 596.0,272.4 596.8,273.1 597.6,273.9 598.4,274.6 599.1,275.4 599.9,276.2 600.7,277.0 601.5,277.8 602.3,278.7 603.0,279.6 603.8,280.6 604.6,281.6 605.4,282.7 606.1,283.9 606.9,285.4 607.7,287.6 607.7,287.6 608.6,280.0 609.4,277.1 610.3,275.0 611.2,273.3 612.0,271.7 612.9,270.4 613.8,269.1 614.7,268.0 615.5,266.9 616.4,265.9 617.3,264.9 618.1,264.0 619.0,263.1 619.9,262.3 620.7,261.5 621.6,260.7 622.5,260.0 623.4,259.2 624.2,258.5 625.1,257.8 626.0,257.2 626.8,256.5 627.7,255.9 628.6,255.3 629.4,254.7 630.3,254.1 631.2,253.5 632.0,252.9 632.9,252.4 633.8,251.8 634.7,251.3 635.5,250.8 636.4,250.3 637.3,249.8 638.1,249.3 639.0,248.8 639.9,248.3 640.7,247.8 641.6,247.3 642.5,246.9 643.3,246.4 644.2,245.9 645.1,245.5 646.0,245.1 646.8,244.6 647.7,244.2 648.6,243.8 649.4,243.3 650.3,242.9 651.2,242.5 652.0,242.1 652.9,241.7 653.8,241.3 654.7,240.9 655.5,240.5 656.4,240.1 657.3,239.8 658.1,239.4 659.0,239.0" fill="none" stroke="#f6a4a8" stroke-width="2.6" stroke-linejoin="round" stroke-linecap="round"/>
<line x1="599.9" y1="219.7" x2="681.1" y2="225.8" stroke="#98c8f4" stroke-width="2.6"/>
<circle cx="571.7900000000001" cy="251.9" r="2.6" fill="none" stroke="#ee1c24" stroke-width="1.35"/>
<circle cx="582.0500000000001" cy="262.8" r="2.6" fill="none" stroke="#ee1c24" stroke-width="1.35"/>
<circle cx="587.1800000000001" cy="266.6" r="2.6" fill="none" stroke="#ee1c24" stroke-width="1.35"/>
<circle cx="592.3100000000001" cy="268.9" r="2.6" fill="none" stroke="#ee1c24" stroke-width="1.35"/>
<circle cx="602.57" cy="281.1" r="2.6" fill="none" stroke="#ee1c24" stroke-width="1.35"/>
<circle cx="607.7" cy="289.3" r="2.6" fill="none" stroke="#ee1c24" stroke-width="1.35"/>
<circle cx="612.83" cy="283.6" r="2.6" fill="none" stroke="#ee1c24" stroke-width="1.35"/>
<circle cx="617.96" cy="271.9" r="2.6" fill="none" stroke="#ee1c24" stroke-width="1.35"/>
<circle cx="623.09" cy="263.2" r="2.6" fill="none" stroke="#ee1c24" stroke-width="1.35"/>
<circle cx="633.35" cy="247" r="2.6" fill="none" stroke="#ee1c24" stroke-width="1.35"/>
<circle cx="648.74" cy="239.7" r="2.6" fill="none" stroke="#ee1c24" stroke-width="1.35"/>
<circle cx="659.0" cy="239.1" r="2.6" fill="none" stroke="#ee1c24" stroke-width="1.35"/>
<rect x="605.40" y="217.40" width="4.6" height="4.6" fill="none" stroke="#1f5ff0" stroke-width="1.3"/>
<rect x="610.53" y="218.60" width="4.6" height="4.6" fill="none" stroke="#1f5ff0" stroke-width="1.3"/>
<rect x="615.66" y="218.60" width="4.6" height="4.6" fill="none" stroke="#1f5ff0" stroke-width="1.3"/>
<rect x="620.79" y="219.60" width="4.6" height="4.6" fill="none" stroke="#1f5ff0" stroke-width="1.3"/>
<rect x="631.05" y="221.10" width="4.6" height="4.6" fill="none" stroke="#1f5ff0" stroke-width="1.3"/>
<rect x="646.44" y="221.50" width="4.6" height="4.6" fill="none" stroke="#1f5ff0" stroke-width="1.3"/>
<rect x="656.70" y="221.50" width="4.6" height="4.6" fill="none" stroke="#1f5ff0" stroke-width="1.3"/>
<rect x="672.09" y="223.10" width="4.6" height="4.6" fill="none" stroke="#1f5ff0" stroke-width="1.3"/>
<text x="583.6" y="235.6" font-size="11" fill="#231f20">q-AFM</text>
<text x="619.9" y="284.6" font-size="11" fill="#231f20">q-FM</text>
<rect x="561.5" y="356.5" width="120.0" height="88.0" fill="none" stroke="#6b6b6b" stroke-width="1"/>
<line x1="566.6600000000001" y1="444.5" x2="566.6600000000001" y2="441.5" stroke="#6b6b6b" stroke-width="1"/>
<line x1="576.9200000000001" y1="444.5" x2="576.9200000000001" y2="441.5" stroke="#6b6b6b" stroke-width="1"/>
<line x1="587.1800000000001" y1="444.5" x2="587.1800000000001" y2="441.5" stroke="#6b6b6b" stroke-width="1"/>
<line x1="597.44" y1="444.5" x2="597.44" y2="441.5" stroke="#6b6b6b" stroke-width="1"/>
<line x1="607.7" y1="444.5" x2="607.7" y2="439.0" stroke="#6b6b6b" stroke-width="1"/>
<line x1="617.96" y1="444.5" x2="617.96" y2="441.5" stroke="#6b6b6b" stroke-width="1"/>
<line x1="628.22" y1="444.5" x2="628.22" y2="441.5" stroke="#6b6b6b" stroke-width="1"/>
<line x1="638.48" y1="444.5" x2="638.48" y2="441.5" stroke="#6b6b6b" stroke-width="1"/>
<line x1="648.74" y1="444.5" x2="648.74" y2="441.5" stroke="#6b6b6b" stroke-width="1"/>
<line x1="659.0" y1="444.5" x2="659.0" y2="439.0" stroke="#6b6b6b" stroke-width="1"/>
<line x1="669.26" y1="444.5" x2="669.26" y2="441.5" stroke="#6b6b6b" stroke-width="1"/>
<line x1="679.52" y1="444.5" x2="679.52" y2="441.5" stroke="#6b6b6b" stroke-width="1"/>
<line x1="561.5" y1="363.4" x2="567.2" y2="363.4" stroke="#6b6b6b" stroke-width="1"/>
<line x1="561.5" y1="399.3" x2="564.8" y2="399.3" stroke="#6b6b6b" stroke-width="1"/>
<line x1="561.5" y1="435.2" x2="567.2" y2="435.2" stroke="#6b6b6b" stroke-width="1"/>
<text x="555.8" y="366.8" font-size="10" text-anchor="end" fill="#231f20">1</text>
<text x="555.8" y="438.6" font-size="10" text-anchor="end" fill="#231f20">0</text>
<text x="607.7" y="457.2" font-size="10" text-anchor="middle" fill="#231f20">310</text>
<text x="659" y="457.2" font-size="10" text-anchor="middle" fill="#231f20">320</text>
<text x="620.7" y="472" font-size="11.5" text-anchor="middle" fill="#231f20">Temperature (K)</text>
<text x="528.8" y="400.3" font-size="11.5" text-anchor="middle" fill="#231f20" transform="rotate(-90 528.8 400.3)">Normalized</text>
<text x="541.8" y="400.3" font-size="11.5" text-anchor="middle" fill="#231f20" transform="rotate(-90 541.8 400.3)">amplitude</text>
<polyline points="562.0,409.9 562.7,410.1 563.6,410.3 564.7,410.6 565.8,410.8 567.0,411.0 568.2,411.1 569.5,411.3 570.9,411.3 572.2,411.4 573.4,411.3 574.5,411.2 575.4,411.0 576.3,410.7 577.2,410.4 578.0,410.0 578.8,409.5 579.4,409.0 580.1,408.4 580.8,407.8 581.5,407.2 582.3,406.6 583.2,406.0 584.1,405.4 585.0,404.8 586.0,404.0 587.1,403.1 588.2,402.2 589.4,401.2 590.6,400.2 591.7,399.0 592.8,397.7 593.9,396.4 594.9,395.0 596.0,393.5 597.0,392.0 598.0,390.5 599.0,388.9 600.1,387.3 601.0,385.6 602.0,383.8 602.9,381.9 603.8,379.8 604.7,377.7 605.6,375.6 606.5,373.5 607.5,371.2 608.5,368.8 609.5,366.5 610.4,364.4 611.0,363.0 611.0,363.0 614.0,364.8 618.3,367.4 623.3,370.5 628.3,373.6 632.6,376.6 636.3,379.5 639.7,382.6 642.9,385.6 646.0,388.4 648.9,390.9 651.5,392.8 653.7,394.4 655.9,395.7 658.3,397.2 661.1,399.0 664.8,401.5 669.3,404.5 673.8,407.5 677.7,410.2 680.5,412.0" fill="none" stroke="#f6a4a8" stroke-width="2.6" stroke-linejoin="round" stroke-linecap="round"/>
<line x1="603.5" y1="432.2" x2="674.4" y2="363.4" stroke="#98c8f4" stroke-width="2.6"/>
<circle cx="571.7900000000001" cy="409.9" r="2.6" fill="none" stroke="#ee1c24" stroke-width="1.35"/>
<circle cx="582.0500000000001" cy="408.3" r="2.6" fill="none" stroke="#ee1c24" stroke-width="1.35"/>
<circle cx="587.1800000000001" cy="406.6" r="2.6" fill="none" stroke="#ee1c24" stroke-width="1.35"/>
<circle cx="592.3100000000001" cy="396.6" r="2.6" fill="none" stroke="#ee1c24" stroke-width="1.35"/>
<circle cx="602.57" cy="389.9" r="2.6" fill="none" stroke="#ee1c24" stroke-width="1.35"/>
<circle cx="607.7" cy="394" r="2.6" fill="none" stroke="#ee1c24" stroke-width="1.35"/>
<circle cx="612.83" cy="363.4" r="2.6" fill="none" stroke="#ee1c24" stroke-width="1.35"/>
<circle cx="617.96" cy="365" r="2.6" fill="none" stroke="#ee1c24" stroke-width="1.35"/>
<circle cx="623.09" cy="371.5" r="2.6" fill="none" stroke="#ee1c24" stroke-width="1.35"/>
<circle cx="633.35" cy="377.7" r="2.6" fill="none" stroke="#ee1c24" stroke-width="1.35"/>
<circle cx="648.74" cy="393.4" r="2.6" fill="none" stroke="#ee1c24" stroke-width="1.35"/>
<circle cx="659.0" cy="398.1" r="2.6" fill="none" stroke="#ee1c24" stroke-width="1.35"/>
<circle cx="674.3900000000001" cy="409.3" r="2.6" fill="none" stroke="#ee1c24" stroke-width="1.35"/>
<rect x="590.01" y="430.90" width="4.6" height="4.6" fill="none" stroke="#1f5ff0" stroke-width="1.3"/>
<rect x="600.27" y="430.50" width="4.6" height="4.6" fill="none" stroke="#1f5ff0" stroke-width="1.3"/>
<rect x="605.40" y="428.40" width="4.6" height="4.6" fill="none" stroke="#1f5ff0" stroke-width="1.3"/>
<rect x="610.53" y="420.30" width="4.6" height="4.6" fill="none" stroke="#1f5ff0" stroke-width="1.3"/>
<rect x="615.66" y="416.20" width="4.6" height="4.6" fill="none" stroke="#1f5ff0" stroke-width="1.3"/>
<rect x="620.79" y="413.10" width="4.6" height="4.6" fill="none" stroke="#1f5ff0" stroke-width="1.3"/>
<rect x="631.05" y="402.90" width="4.6" height="4.6" fill="none" stroke="#1f5ff0" stroke-width="1.3"/>
<rect x="646.44" y="387.60" width="4.6" height="4.6" fill="none" stroke="#1f5ff0" stroke-width="1.3"/>
<rect x="656.70" y="379.40" width="4.6" height="4.6" fill="none" stroke="#1f5ff0" stroke-width="1.3"/>
<rect x="672.09" y="361.10" width="4.6" height="4.6" fill="none" stroke="#1f5ff0" stroke-width="1.3"/>
<text x="574.4" y="375.2" font-size="11" fill="#231f20">q-FM</text>
<text x="619.9" y="430.7" font-size="11" fill="#231f20">q-AFM</text>
<rect x="367.5" y="356.5" width="121.0" height="88.0" fill="none" stroke="#6b6b6b" stroke-width="1"/>
<line x1="367.5" y1="432.3" x2="373.0" y2="432.3" stroke="#6b6b6b" stroke-width="1"/>
<line x1="367.5" y1="415.075" x2="370.5" y2="415.075" stroke="#6b6b6b" stroke-width="1"/>
<line x1="367.5" y1="397.85" x2="370.5" y2="397.85" stroke="#6b6b6b" stroke-width="1"/>
<line x1="367.5" y1="380.625" x2="370.5" y2="380.625" stroke="#6b6b6b" stroke-width="1"/>
<line x1="367.5" y1="363.4" x2="373.0" y2="363.4" stroke="#6b6b6b" stroke-width="1"/>
<line x1="378.0" y1="444.5" x2="378.0" y2="439.0" stroke="#6b6b6b" stroke-width="1"/>
<line x1="388.04" y1="444.5" x2="388.04" y2="441.5" stroke="#6b6b6b" stroke-width="1"/>
<line x1="398.08" y1="444.5" x2="398.08" y2="441.5" stroke="#6b6b6b" stroke-width="1"/>
<line x1="408.12" y1="444.5" x2="408.12" y2="441.5" stroke="#6b6b6b" stroke-width="1"/>
<line x1="418.16" y1="444.5" x2="418.16" y2="441.5" stroke="#6b6b6b" stroke-width="1"/>
<line x1="428.2" y1="444.5" x2="428.2" y2="441.5" stroke="#6b6b6b" stroke-width="1"/>
<line x1="438.24" y1="444.5" x2="438.24" y2="441.5" stroke="#6b6b6b" stroke-width="1"/>
<line x1="448.28" y1="444.5" x2="448.28" y2="441.5" stroke="#6b6b6b" stroke-width="1"/>
<line x1="458.32" y1="444.5" x2="458.32" y2="441.5" stroke="#6b6b6b" stroke-width="1"/>
<line x1="468.36" y1="444.5" x2="468.36" y2="441.5" stroke="#6b6b6b" stroke-width="1"/>
<line x1="478.4" y1="444.5" x2="478.4" y2="439.0" stroke="#6b6b6b" stroke-width="1"/>
<text x="362.6" y="366.8" font-size="10" text-anchor="end" fill="#231f20">1</text>
<text x="362.6" y="435.3" font-size="10" text-anchor="end" fill="#231f20">0</text>
<text x="378" y="457.8" font-size="10" text-anchor="middle" fill="#231f20">0</text>
<text x="478.4" y="457.8" font-size="10" text-anchor="middle" fill="#231f20">1</text>
<text x="337.3" y="399" font-size="11.5" text-anchor="middle" fill="#231f20" transform="rotate(-90 337.3 399)">Amplitude</text>
<text x="349.2" y="399" font-size="11.5" text-anchor="middle" fill="#231f20" transform="rotate(-90 349.2 399)">(a.u.)</text>
<text x="426.1" y="473.5" font-size="11.5" text-anchor="middle" fill="#231f20">Normalized</text>
<text x="415.5" y="486.8" font-size="11.5" fill="#231f20"><tspan font-style="italic">B</tspan><tspan font-size="7.5" dy="-4.8">NF</tspan><tspan font-size="7.5" dx="-8.6" dy="7.4">amp</tspan></text>
<polyline points="378.0,432.3 380.6,432.3 383.1,432.2 385.7,432.0 388.3,431.7 390.9,431.4 393.4,431.0 396.0,430.5 398.6,429.9 401.2,429.2 403.7,428.5 406.3,427.6 408.9,426.7 411.5,425.6 414.0,424.5 416.6,423.3 419.2,422.0 421.8,420.6 424.3,419.1 426.9,417.5 429.5,415.9 432.1,414.1 434.6,412.2 437.2,410.3 439.8,408.2 442.4,406.0 444.9,403.8 447.5,401.4 450.1,399.0 452.7,396.4 455.2,393.8 457.8,391.0 460.4,388.2 463.0,385.2 465.5,382.2 468.1,379.1 470.7,375.8 473.3,372.5 475.8,369.0 478.4,365.5" fill="none" stroke="#f47a80" stroke-width="1.3" stroke-linejoin="round" stroke-linecap="round"/>
<polyline points="378.0,432.3 380.6,432.3 383.1,432.2 385.7,432.0 388.3,431.8 390.9,431.5 393.4,431.1 396.0,430.7 398.6,430.2 401.2,429.6 403.7,428.9 406.3,428.2 408.9,427.5 411.5,426.6 414.0,425.7 416.6,424.8 419.2,423.7 421.8,422.6 424.3,421.4 426.9,420.2 429.5,418.9 432.1,417.5 434.6,416.1 437.2,414.6 439.8,413.0 442.4,411.3 444.9,409.6 447.5,407.9 450.1,406.0 452.7,404.1 455.2,402.1 457.8,400.1 460.4,398.0 463.0,395.8 465.5,393.5 468.1,391.2 470.7,388.9 473.3,386.4 475.8,383.9 478.4,381.3" fill="none" stroke="#f0a020" stroke-width="1.3" stroke-linejoin="round" stroke-linecap="round"/>
<polyline points="378.0,432.3 380.6,432.3 383.1,432.1 385.7,432.0 388.3,431.7 390.9,431.5 393.4,431.1 396.0,430.8 398.6,430.3 401.2,429.9 403.7,429.4 406.3,428.8 408.9,428.3 411.5,427.6 414.0,427.0 416.6,426.3 419.2,425.5 421.8,424.7 424.3,423.9 426.9,423.0 429.5,422.2 432.1,421.2 434.6,420.3 437.2,419.3 439.8,418.2 442.4,417.1 444.9,416.0 447.5,414.9 450.1,413.7 452.7,412.5 455.2,411.2 457.8,410.0 460.4,408.7 463.0,407.3 465.5,405.9 468.1,404.5 470.7,403.1 473.3,401.6 475.8,400.1 478.4,398.5" fill="none" stroke="#5588ee" stroke-width="1.3" stroke-linejoin="round" stroke-linecap="round"/>
<rect x="375.70" y="430.00" width="4.6" height="4.6" fill="none" stroke="#ee1c24" stroke-width="1.3"/>
<rect x="405.82" y="421.30" width="4.6" height="4.6" fill="none" stroke="#ee1c24" stroke-width="1.3"/>
<rect x="415.86" y="416.60" width="4.6" height="4.6" fill="none" stroke="#ee1c24" stroke-width="1.3"/>
<rect x="435.94" y="401.50" width="4.6" height="4.6" fill="none" stroke="#ee1c24" stroke-width="1.3"/>
<rect x="445.98" y="394.70" width="4.6" height="4.6" fill="none" stroke="#ee1c24" stroke-width="1.3"/>
<rect x="456.02" y="383.50" width="4.6" height="4.6" fill="none" stroke="#ee1c24" stroke-width="1.3"/>
<rect x="466.06" y="375.80" width="4.6" height="4.6" fill="none" stroke="#ee1c24" stroke-width="1.3"/>
<rect x="476.10" y="361.10" width="4.6" height="4.6" fill="none" stroke="#ee1c24" stroke-width="1.3"/>
<circle cx="378.0" cy="432.3" r="2.6" fill="none" stroke="#f0a020" stroke-width="1.35"/>
<circle cx="408.12" cy="428.7" r="2.6" fill="none" stroke="#f0a020" stroke-width="1.35"/>
<circle cx="418.16" cy="425" r="2.6" fill="none" stroke="#f0a020" stroke-width="1.35"/>
<circle cx="438.24" cy="415.8" r="2.6" fill="none" stroke="#f0a020" stroke-width="1.35"/>
<circle cx="448.28" cy="408.9" r="2.6" fill="none" stroke="#f0a020" stroke-width="1.35"/>
<circle cx="458.32" cy="399.1" r="2.6" fill="none" stroke="#f0a020" stroke-width="1.35"/>
<circle cx="468.36" cy="388.9" r="2.6" fill="none" stroke="#f0a020" stroke-width="1.35"/>
<circle cx="478.4" cy="377" r="2.6" fill="none" stroke="#f0a020" stroke-width="1.35"/>
<polygon points="378.00,428.37 381.00,433.59 375.00,433.59" fill="none" stroke="#5588ee" stroke-width="1.2" stroke-linejoin="round"/>
<polygon points="408.12,425.57 411.12,430.79 405.12,430.79" fill="none" stroke="#5588ee" stroke-width="1.2" stroke-linejoin="round"/>
<polygon points="418.16,423.07 421.16,428.29 415.16,428.29" fill="none" stroke="#5588ee" stroke-width="1.2" stroke-linejoin="round"/>
<polygon points="438.24,418.37 441.24,423.59 435.24,423.59" fill="none" stroke="#5588ee" stroke-width="1.2" stroke-linejoin="round"/>
<polygon points="448.28,414.27 451.28,419.49 445.28,419.49" fill="none" stroke="#5588ee" stroke-width="1.2" stroke-linejoin="round"/>
<polygon points="458.32,408.17 461.32,413.39 455.32,413.39" fill="none" stroke="#5588ee" stroke-width="1.2" stroke-linejoin="round"/>
<polygon points="468.36,400.07 471.36,405.29 465.36,405.29" fill="none" stroke="#5588ee" stroke-width="1.2" stroke-linejoin="round"/>
<polygon points="478.40,390.87 481.40,396.09 475.40,396.09" fill="none" stroke="#5588ee" stroke-width="1.2" stroke-linejoin="round"/>
<text x="376.5" y="368" font-size="11" fill="#231f20">q-FM</text>
<circle cx="378" cy="380.1" r="2.6" fill="none" stroke="#f0a020" stroke-width="1.35"/>
<text x="385.9" y="383.4" font-size="9.5" fill="#231f20">315 K</text>
<rect x="375.70" y="391.30" width="4.6" height="4.6" fill="none" stroke="#ee1c24" stroke-width="1.3"/>
<text x="385.9" y="396.8" font-size="9.5" fill="#231f20">311 K</text>
<polygon points="378.00,403.47 381.00,408.69 375.00,408.69" fill="none" stroke="#5588ee" stroke-width="1.2" stroke-linejoin="round"/>
<text x="385.9" y="409.9" font-size="9.5" fill="#231f20">307 K</text>
</svg>
</body></html>
